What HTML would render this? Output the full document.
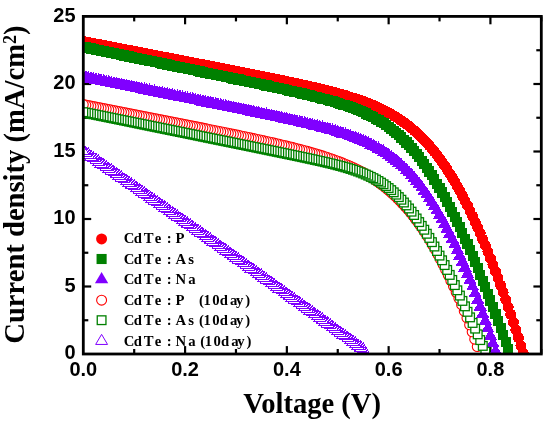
<!DOCTYPE html>
<html><head><meta charset="utf-8"><style>
html,body{margin:0;padding:0;background:#fff;}
body{width:550px;height:423px;overflow:hidden;}
svg{display:block;}
.tl{font-family:"Liberation Sans",Arial,sans-serif;font-weight:bold;font-size:20px;fill:#000;}
.ti{font-family:"Liberation Serif","Times New Roman",serif;font-weight:bold;font-size:28.6px;fill:#000;}
.lg{font-family:"Liberation Serif","Times New Roman",serif;font-weight:bold;font-size:14.7px;fill:#000;}
</style></head><body>
<svg width="550" height="423" viewBox="0 0 550 423">
<defs><filter id="b" x="0" y="0" width="1" height="1"><feGaussianBlur stdDeviation="0.4"/></filter><clipPath id="c"><rect x="83.3" y="16.4" width="457.99999999999994" height="337.6"/></clipPath></defs>
<rect width="550" height="423" fill="#fff"/>
<g stroke="#000" stroke-width="2.2" fill="none">
<line x1="134.19" y1="354.0" x2="134.19" y2="349.0"/>
<line x1="134.19" y1="16.4" x2="134.19" y2="21.4"/>
<line x1="185.08" y1="354.0" x2="185.08" y2="346.1"/>
<line x1="185.08" y1="16.4" x2="185.08" y2="24.299999999999997"/>
<line x1="235.97" y1="354.0" x2="235.97" y2="349.0"/>
<line x1="235.97" y1="16.4" x2="235.97" y2="21.4"/>
<line x1="286.86" y1="354.0" x2="286.86" y2="346.1"/>
<line x1="286.86" y1="16.4" x2="286.86" y2="24.299999999999997"/>
<line x1="337.75" y1="354.0" x2="337.75" y2="349.0"/>
<line x1="337.75" y1="16.4" x2="337.75" y2="21.4"/>
<line x1="388.64" y1="354.0" x2="388.64" y2="346.1"/>
<line x1="388.64" y1="16.4" x2="388.64" y2="24.299999999999997"/>
<line x1="439.53" y1="354.0" x2="439.53" y2="349.0"/>
<line x1="439.53" y1="16.4" x2="439.53" y2="21.4"/>
<line x1="490.42" y1="354.0" x2="490.42" y2="346.1"/>
<line x1="490.42" y1="16.4" x2="490.42" y2="24.299999999999997"/>
<line x1="541.31" y1="354.0" x2="541.31" y2="349.0"/>
<line x1="541.31" y1="16.4" x2="541.31" y2="21.4"/>
<line x1="83.3" y1="320.25" x2="88.3" y2="320.25"/>
<line x1="541.3" y1="320.25" x2="536.3" y2="320.25"/>
<line x1="83.3" y1="286.50" x2="91.2" y2="286.50"/>
<line x1="541.3" y1="286.50" x2="533.4" y2="286.50"/>
<line x1="83.3" y1="252.75" x2="88.3" y2="252.75"/>
<line x1="541.3" y1="252.75" x2="536.3" y2="252.75"/>
<line x1="83.3" y1="219.00" x2="91.2" y2="219.00"/>
<line x1="541.3" y1="219.00" x2="533.4" y2="219.00"/>
<line x1="83.3" y1="185.25" x2="88.3" y2="185.25"/>
<line x1="541.3" y1="185.25" x2="536.3" y2="185.25"/>
<line x1="83.3" y1="151.50" x2="91.2" y2="151.50"/>
<line x1="541.3" y1="151.50" x2="533.4" y2="151.50"/>
<line x1="83.3" y1="117.75" x2="88.3" y2="117.75"/>
<line x1="541.3" y1="117.75" x2="536.3" y2="117.75"/>
<line x1="83.3" y1="84.00" x2="91.2" y2="84.00"/>
<line x1="541.3" y1="84.00" x2="533.4" y2="84.00"/>
<line x1="83.3" y1="50.25" x2="88.3" y2="50.25"/>
<line x1="541.3" y1="50.25" x2="536.3" y2="50.25"/>
</g>
<g clip-path="url(#c)"><g filter="url(#b)" shape-rendering="crispEdges">
<circle cx="523.50" cy="353.77" r="5.5" fill="#ff0000"/>
<circle cx="520.95" cy="345.69" r="5.5" fill="#ff0000"/>
<circle cx="518.41" cy="337.71" r="5.5" fill="#ff0000"/>
<circle cx="515.87" cy="329.85" r="5.5" fill="#ff0000"/>
<circle cx="513.32" cy="322.11" r="5.5" fill="#ff0000"/>
<circle cx="510.78" cy="314.48" r="5.5" fill="#ff0000"/>
<circle cx="508.23" cy="306.98" r="5.5" fill="#ff0000"/>
<circle cx="505.69" cy="299.61" r="5.5" fill="#ff0000"/>
<circle cx="503.14" cy="292.36" r="5.5" fill="#ff0000"/>
<circle cx="500.60" cy="285.24" r="5.5" fill="#ff0000"/>
<circle cx="498.05" cy="278.26" r="5.5" fill="#ff0000"/>
<circle cx="495.51" cy="271.41" r="5.5" fill="#ff0000"/>
<circle cx="492.96" cy="264.70" r="5.5" fill="#ff0000"/>
<circle cx="490.42" cy="258.14" r="5.5" fill="#ff0000"/>
<circle cx="487.88" cy="251.71" r="5.5" fill="#ff0000"/>
<circle cx="485.33" cy="245.43" r="5.5" fill="#ff0000"/>
<circle cx="482.79" cy="239.30" r="5.5" fill="#ff0000"/>
<circle cx="480.24" cy="233.32" r="5.5" fill="#ff0000"/>
<circle cx="477.70" cy="227.49" r="5.5" fill="#ff0000"/>
<circle cx="475.15" cy="221.81" r="5.5" fill="#ff0000"/>
<circle cx="472.61" cy="216.28" r="5.5" fill="#ff0000"/>
<circle cx="470.06" cy="210.91" r="5.5" fill="#ff0000"/>
<circle cx="467.52" cy="205.70" r="5.5" fill="#ff0000"/>
<circle cx="464.97" cy="200.64" r="5.5" fill="#ff0000"/>
<circle cx="462.43" cy="195.74" r="5.5" fill="#ff0000"/>
<circle cx="459.89" cy="190.99" r="5.5" fill="#ff0000"/>
<circle cx="457.34" cy="186.40" r="5.5" fill="#ff0000"/>
<circle cx="454.80" cy="181.97" r="5.5" fill="#ff0000"/>
<circle cx="452.25" cy="177.69" r="5.5" fill="#ff0000"/>
<circle cx="449.71" cy="173.56" r="5.5" fill="#ff0000"/>
<circle cx="447.16" cy="169.58" r="5.5" fill="#ff0000"/>
<circle cx="444.62" cy="165.76" r="5.5" fill="#ff0000"/>
<circle cx="442.07" cy="162.08" r="5.5" fill="#ff0000"/>
<circle cx="439.53" cy="158.55" r="5.5" fill="#ff0000"/>
<circle cx="436.99" cy="155.16" r="5.5" fill="#ff0000"/>
<circle cx="434.44" cy="151.91" r="5.5" fill="#ff0000"/>
<circle cx="431.90" cy="148.79" r="5.5" fill="#ff0000"/>
<circle cx="429.35" cy="145.81" r="5.5" fill="#ff0000"/>
<circle cx="426.81" cy="142.96" r="5.5" fill="#ff0000"/>
<circle cx="424.26" cy="140.23" r="5.5" fill="#ff0000"/>
<circle cx="421.72" cy="137.62" r="5.5" fill="#ff0000"/>
<circle cx="419.17" cy="135.13" r="5.5" fill="#ff0000"/>
<circle cx="416.63" cy="132.75" r="5.5" fill="#ff0000"/>
<circle cx="414.08" cy="130.48" r="5.5" fill="#ff0000"/>
<circle cx="411.54" cy="128.32" r="5.5" fill="#ff0000"/>
<circle cx="409.00" cy="126.25" r="5.5" fill="#ff0000"/>
<circle cx="406.45" cy="124.28" r="5.5" fill="#ff0000"/>
<circle cx="403.91" cy="122.40" r="5.5" fill="#ff0000"/>
<circle cx="401.36" cy="120.61" r="5.5" fill="#ff0000"/>
<circle cx="398.82" cy="118.90" r="5.5" fill="#ff0000"/>
<circle cx="396.27" cy="117.26" r="5.5" fill="#ff0000"/>
<circle cx="393.73" cy="115.70" r="5.5" fill="#ff0000"/>
<circle cx="391.18" cy="114.21" r="5.5" fill="#ff0000"/>
<circle cx="388.64" cy="112.79" r="5.5" fill="#ff0000"/>
<circle cx="386.10" cy="111.43" r="5.5" fill="#ff0000"/>
<circle cx="383.55" cy="110.12" r="5.5" fill="#ff0000"/>
<circle cx="381.01" cy="108.88" r="5.5" fill="#ff0000"/>
<circle cx="378.46" cy="107.68" r="5.5" fill="#ff0000"/>
<circle cx="375.92" cy="106.53" r="5.5" fill="#ff0000"/>
<circle cx="373.37" cy="105.43" r="5.5" fill="#ff0000"/>
<circle cx="370.83" cy="104.37" r="5.5" fill="#ff0000"/>
<circle cx="368.28" cy="103.35" r="5.5" fill="#ff0000"/>
<circle cx="365.74" cy="102.37" r="5.5" fill="#ff0000"/>
<circle cx="363.19" cy="101.42" r="5.5" fill="#ff0000"/>
<circle cx="360.65" cy="100.51" r="5.5" fill="#ff0000"/>
<circle cx="358.11" cy="99.62" r="5.5" fill="#ff0000"/>
<circle cx="355.56" cy="98.77" r="5.5" fill="#ff0000"/>
<circle cx="353.02" cy="97.94" r="5.5" fill="#ff0000"/>
<circle cx="350.47" cy="97.13" r="5.5" fill="#ff0000"/>
<circle cx="347.93" cy="96.35" r="5.5" fill="#ff0000"/>
<circle cx="345.38" cy="95.59" r="5.5" fill="#ff0000"/>
<circle cx="342.84" cy="94.85" r="5.5" fill="#ff0000"/>
<circle cx="340.29" cy="94.13" r="5.5" fill="#ff0000"/>
<circle cx="337.75" cy="93.42" r="5.5" fill="#ff0000"/>
<circle cx="335.21" cy="92.73" r="5.5" fill="#ff0000"/>
<circle cx="332.66" cy="92.06" r="5.5" fill="#ff0000"/>
<circle cx="330.12" cy="91.39" r="5.5" fill="#ff0000"/>
<circle cx="327.57" cy="90.74" r="5.5" fill="#ff0000"/>
<circle cx="325.03" cy="90.11" r="5.5" fill="#ff0000"/>
<circle cx="322.48" cy="89.48" r="5.5" fill="#ff0000"/>
<circle cx="319.94" cy="88.86" r="5.5" fill="#ff0000"/>
<circle cx="317.39" cy="88.26" r="5.5" fill="#ff0000"/>
<circle cx="314.85" cy="87.66" r="5.5" fill="#ff0000"/>
<circle cx="312.31" cy="87.07" r="5.5" fill="#ff0000"/>
<circle cx="309.76" cy="86.48" r="5.5" fill="#ff0000"/>
<circle cx="307.22" cy="85.91" r="5.5" fill="#ff0000"/>
<circle cx="304.67" cy="85.34" r="5.5" fill="#ff0000"/>
<circle cx="302.13" cy="84.77" r="5.5" fill="#ff0000"/>
<circle cx="299.58" cy="84.21" r="5.5" fill="#ff0000"/>
<circle cx="297.04" cy="83.66" r="5.5" fill="#ff0000"/>
<circle cx="294.49" cy="83.11" r="5.5" fill="#ff0000"/>
<circle cx="291.95" cy="82.56" r="5.5" fill="#ff0000"/>
<circle cx="289.40" cy="82.02" r="5.5" fill="#ff0000"/>
<circle cx="286.86" cy="81.48" r="5.5" fill="#ff0000"/>
<circle cx="284.32" cy="80.95" r="5.5" fill="#ff0000"/>
<circle cx="281.77" cy="80.42" r="5.5" fill="#ff0000"/>
<circle cx="279.23" cy="79.89" r="5.5" fill="#ff0000"/>
<circle cx="276.68" cy="79.36" r="5.5" fill="#ff0000"/>
<circle cx="274.14" cy="78.84" r="5.5" fill="#ff0000"/>
<circle cx="271.59" cy="78.32" r="5.5" fill="#ff0000"/>
<circle cx="269.05" cy="77.80" r="5.5" fill="#ff0000"/>
<circle cx="266.50" cy="77.28" r="5.5" fill="#ff0000"/>
<circle cx="263.96" cy="76.77" r="5.5" fill="#ff0000"/>
<circle cx="261.42" cy="76.25" r="5.5" fill="#ff0000"/>
<circle cx="258.87" cy="75.74" r="5.5" fill="#ff0000"/>
<circle cx="256.33" cy="75.23" r="5.5" fill="#ff0000"/>
<circle cx="253.78" cy="74.72" r="5.5" fill="#ff0000"/>
<circle cx="251.24" cy="74.21" r="5.5" fill="#ff0000"/>
<circle cx="248.69" cy="73.71" r="5.5" fill="#ff0000"/>
<circle cx="246.15" cy="73.20" r="5.5" fill="#ff0000"/>
<circle cx="243.60" cy="72.69" r="5.5" fill="#ff0000"/>
<circle cx="241.06" cy="72.19" r="5.5" fill="#ff0000"/>
<circle cx="238.51" cy="71.69" r="5.5" fill="#ff0000"/>
<circle cx="235.97" cy="71.18" r="5.5" fill="#ff0000"/>
<circle cx="233.43" cy="70.68" r="5.5" fill="#ff0000"/>
<circle cx="230.88" cy="70.18" r="5.5" fill="#ff0000"/>
<circle cx="228.34" cy="69.68" r="5.5" fill="#ff0000"/>
<circle cx="225.79" cy="69.18" r="5.5" fill="#ff0000"/>
<circle cx="223.25" cy="68.68" r="5.5" fill="#ff0000"/>
<circle cx="220.70" cy="68.18" r="5.5" fill="#ff0000"/>
<circle cx="218.16" cy="67.68" r="5.5" fill="#ff0000"/>
<circle cx="215.61" cy="67.18" r="5.5" fill="#ff0000"/>
<circle cx="213.07" cy="66.69" r="5.5" fill="#ff0000"/>
<circle cx="210.52" cy="66.19" r="5.5" fill="#ff0000"/>
<circle cx="207.98" cy="65.69" r="5.5" fill="#ff0000"/>
<circle cx="205.44" cy="65.19" r="5.5" fill="#ff0000"/>
<circle cx="202.89" cy="64.70" r="5.5" fill="#ff0000"/>
<circle cx="200.35" cy="64.20" r="5.5" fill="#ff0000"/>
<circle cx="197.80" cy="63.70" r="5.5" fill="#ff0000"/>
<circle cx="195.26" cy="63.21" r="5.5" fill="#ff0000"/>
<circle cx="192.71" cy="62.71" r="5.5" fill="#ff0000"/>
<circle cx="190.17" cy="62.22" r="5.5" fill="#ff0000"/>
<circle cx="187.62" cy="61.72" r="5.5" fill="#ff0000"/>
<circle cx="185.08" cy="61.23" r="5.5" fill="#ff0000"/>
<circle cx="182.54" cy="60.73" r="5.5" fill="#ff0000"/>
<circle cx="179.99" cy="60.24" r="5.5" fill="#ff0000"/>
<circle cx="177.45" cy="59.74" r="5.5" fill="#ff0000"/>
<circle cx="174.90" cy="59.25" r="5.5" fill="#ff0000"/>
<circle cx="172.36" cy="58.75" r="5.5" fill="#ff0000"/>
<circle cx="169.81" cy="58.26" r="5.5" fill="#ff0000"/>
<circle cx="167.27" cy="57.76" r="5.5" fill="#ff0000"/>
<circle cx="164.72" cy="57.27" r="5.5" fill="#ff0000"/>
<circle cx="162.18" cy="56.77" r="5.5" fill="#ff0000"/>
<circle cx="159.63" cy="56.28" r="5.5" fill="#ff0000"/>
<circle cx="157.09" cy="55.78" r="5.5" fill="#ff0000"/>
<circle cx="154.55" cy="55.29" r="5.5" fill="#ff0000"/>
<circle cx="152.00" cy="54.80" r="5.5" fill="#ff0000"/>
<circle cx="149.46" cy="54.30" r="5.5" fill="#ff0000"/>
<circle cx="146.91" cy="53.81" r="5.5" fill="#ff0000"/>
<circle cx="144.37" cy="53.31" r="5.5" fill="#ff0000"/>
<circle cx="141.82" cy="52.82" r="5.5" fill="#ff0000"/>
<circle cx="139.28" cy="52.32" r="5.5" fill="#ff0000"/>
<circle cx="136.73" cy="51.83" r="5.5" fill="#ff0000"/>
<circle cx="134.19" cy="51.34" r="5.5" fill="#ff0000"/>
<circle cx="131.65" cy="50.84" r="5.5" fill="#ff0000"/>
<circle cx="129.10" cy="50.35" r="5.5" fill="#ff0000"/>
<circle cx="126.56" cy="49.86" r="5.5" fill="#ff0000"/>
<circle cx="124.01" cy="49.36" r="5.5" fill="#ff0000"/>
<circle cx="121.47" cy="48.87" r="5.5" fill="#ff0000"/>
<circle cx="118.92" cy="48.37" r="5.5" fill="#ff0000"/>
<circle cx="116.38" cy="47.88" r="5.5" fill="#ff0000"/>
<circle cx="113.83" cy="47.39" r="5.5" fill="#ff0000"/>
<circle cx="111.29" cy="46.89" r="5.5" fill="#ff0000"/>
<circle cx="108.75" cy="46.40" r="5.5" fill="#ff0000"/>
<circle cx="106.20" cy="45.91" r="5.5" fill="#ff0000"/>
<circle cx="103.66" cy="45.41" r="5.5" fill="#ff0000"/>
<circle cx="101.11" cy="44.92" r="5.5" fill="#ff0000"/>
<circle cx="98.57" cy="44.42" r="5.5" fill="#ff0000"/>
<circle cx="96.02" cy="43.93" r="5.5" fill="#ff0000"/>
<circle cx="93.48" cy="43.44" r="5.5" fill="#ff0000"/>
<circle cx="90.93" cy="42.94" r="5.5" fill="#ff0000"/>
<circle cx="88.39" cy="42.45" r="5.5" fill="#ff0000"/>
<circle cx="85.84" cy="41.96" r="5.5" fill="#ff0000"/>
<circle cx="83.30" cy="41.46" r="5.5" fill="#ff0000"/>
<rect x="503.18" y="344.13" width="10.1" height="10.1" fill="#008000"/>
<rect x="500.64" y="336.95" width="10.1" height="10.1" fill="#008000"/>
<rect x="498.09" y="329.85" width="10.1" height="10.1" fill="#008000"/>
<rect x="495.55" y="322.82" width="10.1" height="10.1" fill="#008000"/>
<rect x="493.00" y="315.86" width="10.1" height="10.1" fill="#008000"/>
<rect x="490.46" y="308.99" width="10.1" height="10.1" fill="#008000"/>
<rect x="487.91" y="302.19" width="10.1" height="10.1" fill="#008000"/>
<rect x="485.37" y="295.48" width="10.1" height="10.1" fill="#008000"/>
<rect x="482.83" y="288.85" width="10.1" height="10.1" fill="#008000"/>
<rect x="480.28" y="282.31" width="10.1" height="10.1" fill="#008000"/>
<rect x="477.74" y="275.86" width="10.1" height="10.1" fill="#008000"/>
<rect x="475.19" y="269.50" width="10.1" height="10.1" fill="#008000"/>
<rect x="472.65" y="263.24" width="10.1" height="10.1" fill="#008000"/>
<rect x="470.10" y="257.09" width="10.1" height="10.1" fill="#008000"/>
<rect x="467.56" y="251.03" width="10.1" height="10.1" fill="#008000"/>
<rect x="465.01" y="245.08" width="10.1" height="10.1" fill="#008000"/>
<rect x="462.47" y="239.24" width="10.1" height="10.1" fill="#008000"/>
<rect x="459.92" y="233.51" width="10.1" height="10.1" fill="#008000"/>
<rect x="457.38" y="227.89" width="10.1" height="10.1" fill="#008000"/>
<rect x="454.84" y="222.39" width="10.1" height="10.1" fill="#008000"/>
<rect x="452.29" y="217.01" width="10.1" height="10.1" fill="#008000"/>
<rect x="449.75" y="211.76" width="10.1" height="10.1" fill="#008000"/>
<rect x="447.20" y="206.63" width="10.1" height="10.1" fill="#008000"/>
<rect x="444.66" y="201.62" width="10.1" height="10.1" fill="#008000"/>
<rect x="442.11" y="196.75" width="10.1" height="10.1" fill="#008000"/>
<rect x="439.57" y="192.01" width="10.1" height="10.1" fill="#008000"/>
<rect x="437.02" y="187.40" width="10.1" height="10.1" fill="#008000"/>
<rect x="434.48" y="182.93" width="10.1" height="10.1" fill="#008000"/>
<rect x="431.94" y="178.60" width="10.1" height="10.1" fill="#008000"/>
<rect x="429.39" y="174.41" width="10.1" height="10.1" fill="#008000"/>
<rect x="426.85" y="170.35" width="10.1" height="10.1" fill="#008000"/>
<rect x="424.30" y="166.44" width="10.1" height="10.1" fill="#008000"/>
<rect x="421.76" y="162.67" width="10.1" height="10.1" fill="#008000"/>
<rect x="419.21" y="159.03" width="10.1" height="10.1" fill="#008000"/>
<rect x="416.67" y="155.54" width="10.1" height="10.1" fill="#008000"/>
<rect x="414.12" y="152.19" width="10.1" height="10.1" fill="#008000"/>
<rect x="411.58" y="148.97" width="10.1" height="10.1" fill="#008000"/>
<rect x="409.03" y="145.89" width="10.1" height="10.1" fill="#008000"/>
<rect x="406.49" y="142.94" width="10.1" height="10.1" fill="#008000"/>
<rect x="403.95" y="140.12" width="10.1" height="10.1" fill="#008000"/>
<rect x="401.40" y="137.43" width="10.1" height="10.1" fill="#008000"/>
<rect x="398.86" y="134.86" width="10.1" height="10.1" fill="#008000"/>
<rect x="396.31" y="132.42" width="10.1" height="10.1" fill="#008000"/>
<rect x="393.77" y="130.09" width="10.1" height="10.1" fill="#008000"/>
<rect x="391.22" y="127.87" width="10.1" height="10.1" fill="#008000"/>
<rect x="388.68" y="125.77" width="10.1" height="10.1" fill="#008000"/>
<rect x="386.13" y="123.76" width="10.1" height="10.1" fill="#008000"/>
<rect x="383.59" y="121.86" width="10.1" height="10.1" fill="#008000"/>
<rect x="381.05" y="120.05" width="10.1" height="10.1" fill="#008000"/>
<rect x="378.50" y="118.33" width="10.1" height="10.1" fill="#008000"/>
<rect x="375.96" y="116.70" width="10.1" height="10.1" fill="#008000"/>
<rect x="373.41" y="115.14" width="10.1" height="10.1" fill="#008000"/>
<rect x="370.87" y="113.67" width="10.1" height="10.1" fill="#008000"/>
<rect x="368.32" y="112.26" width="10.1" height="10.1" fill="#008000"/>
<rect x="365.78" y="110.92" width="10.1" height="10.1" fill="#008000"/>
<rect x="363.23" y="109.65" width="10.1" height="10.1" fill="#008000"/>
<rect x="360.69" y="108.43" width="10.1" height="10.1" fill="#008000"/>
<rect x="358.14" y="107.27" width="10.1" height="10.1" fill="#008000"/>
<rect x="355.60" y="106.16" width="10.1" height="10.1" fill="#008000"/>
<rect x="353.06" y="105.09" width="10.1" height="10.1" fill="#008000"/>
<rect x="350.51" y="104.07" width="10.1" height="10.1" fill="#008000"/>
<rect x="347.97" y="103.09" width="10.1" height="10.1" fill="#008000"/>
<rect x="345.42" y="102.15" width="10.1" height="10.1" fill="#008000"/>
<rect x="342.88" y="101.24" width="10.1" height="10.1" fill="#008000"/>
<rect x="340.33" y="100.36" width="10.1" height="10.1" fill="#008000"/>
<rect x="337.79" y="99.52" width="10.1" height="10.1" fill="#008000"/>
<rect x="335.24" y="98.69" width="10.1" height="10.1" fill="#008000"/>
<rect x="332.70" y="97.90" width="10.1" height="10.1" fill="#008000"/>
<rect x="330.16" y="97.13" width="10.1" height="10.1" fill="#008000"/>
<rect x="327.61" y="96.37" width="10.1" height="10.1" fill="#008000"/>
<rect x="325.07" y="95.64" width="10.1" height="10.1" fill="#008000"/>
<rect x="322.52" y="94.93" width="10.1" height="10.1" fill="#008000"/>
<rect x="319.98" y="94.23" width="10.1" height="10.1" fill="#008000"/>
<rect x="317.43" y="93.54" width="10.1" height="10.1" fill="#008000"/>
<rect x="314.89" y="92.87" width="10.1" height="10.1" fill="#008000"/>
<rect x="312.34" y="92.21" width="10.1" height="10.1" fill="#008000"/>
<rect x="309.80" y="91.56" width="10.1" height="10.1" fill="#008000"/>
<rect x="307.25" y="90.93" width="10.1" height="10.1" fill="#008000"/>
<rect x="304.71" y="90.30" width="10.1" height="10.1" fill="#008000"/>
<rect x="302.17" y="89.68" width="10.1" height="10.1" fill="#008000"/>
<rect x="299.62" y="89.06" width="10.1" height="10.1" fill="#008000"/>
<rect x="297.08" y="88.46" width="10.1" height="10.1" fill="#008000"/>
<rect x="294.53" y="87.86" width="10.1" height="10.1" fill="#008000"/>
<rect x="291.99" y="87.27" width="10.1" height="10.1" fill="#008000"/>
<rect x="289.44" y="86.68" width="10.1" height="10.1" fill="#008000"/>
<rect x="286.90" y="86.10" width="10.1" height="10.1" fill="#008000"/>
<rect x="284.35" y="85.52" width="10.1" height="10.1" fill="#008000"/>
<rect x="281.81" y="84.95" width="10.1" height="10.1" fill="#008000"/>
<rect x="279.27" y="84.38" width="10.1" height="10.1" fill="#008000"/>
<rect x="276.72" y="83.81" width="10.1" height="10.1" fill="#008000"/>
<rect x="274.18" y="83.25" width="10.1" height="10.1" fill="#008000"/>
<rect x="271.63" y="82.68" width="10.1" height="10.1" fill="#008000"/>
<rect x="269.09" y="82.13" width="10.1" height="10.1" fill="#008000"/>
<rect x="266.54" y="81.57" width="10.1" height="10.1" fill="#008000"/>
<rect x="264.00" y="81.02" width="10.1" height="10.1" fill="#008000"/>
<rect x="261.45" y="80.46" width="10.1" height="10.1" fill="#008000"/>
<rect x="258.91" y="79.91" width="10.1" height="10.1" fill="#008000"/>
<rect x="256.37" y="79.36" width="10.1" height="10.1" fill="#008000"/>
<rect x="253.82" y="78.82" width="10.1" height="10.1" fill="#008000"/>
<rect x="251.28" y="78.27" width="10.1" height="10.1" fill="#008000"/>
<rect x="248.73" y="77.73" width="10.1" height="10.1" fill="#008000"/>
<rect x="246.19" y="77.18" width="10.1" height="10.1" fill="#008000"/>
<rect x="243.64" y="76.64" width="10.1" height="10.1" fill="#008000"/>
<rect x="241.10" y="76.10" width="10.1" height="10.1" fill="#008000"/>
<rect x="238.55" y="75.56" width="10.1" height="10.1" fill="#008000"/>
<rect x="236.01" y="75.01" width="10.1" height="10.1" fill="#008000"/>
<rect x="233.46" y="74.47" width="10.1" height="10.1" fill="#008000"/>
<rect x="230.92" y="73.94" width="10.1" height="10.1" fill="#008000"/>
<rect x="228.38" y="73.40" width="10.1" height="10.1" fill="#008000"/>
<rect x="225.83" y="72.86" width="10.1" height="10.1" fill="#008000"/>
<rect x="223.29" y="72.32" width="10.1" height="10.1" fill="#008000"/>
<rect x="220.74" y="71.78" width="10.1" height="10.1" fill="#008000"/>
<rect x="218.20" y="71.25" width="10.1" height="10.1" fill="#008000"/>
<rect x="215.65" y="70.71" width="10.1" height="10.1" fill="#008000"/>
<rect x="213.11" y="70.17" width="10.1" height="10.1" fill="#008000"/>
<rect x="210.56" y="69.64" width="10.1" height="10.1" fill="#008000"/>
<rect x="208.02" y="69.10" width="10.1" height="10.1" fill="#008000"/>
<rect x="205.47" y="68.57" width="10.1" height="10.1" fill="#008000"/>
<rect x="202.93" y="68.03" width="10.1" height="10.1" fill="#008000"/>
<rect x="200.39" y="67.50" width="10.1" height="10.1" fill="#008000"/>
<rect x="197.84" y="66.96" width="10.1" height="10.1" fill="#008000"/>
<rect x="195.30" y="66.43" width="10.1" height="10.1" fill="#008000"/>
<rect x="192.75" y="65.89" width="10.1" height="10.1" fill="#008000"/>
<rect x="190.21" y="65.36" width="10.1" height="10.1" fill="#008000"/>
<rect x="187.66" y="64.82" width="10.1" height="10.1" fill="#008000"/>
<rect x="185.12" y="64.29" width="10.1" height="10.1" fill="#008000"/>
<rect x="182.57" y="63.76" width="10.1" height="10.1" fill="#008000"/>
<rect x="180.03" y="63.22" width="10.1" height="10.1" fill="#008000"/>
<rect x="177.49" y="62.69" width="10.1" height="10.1" fill="#008000"/>
<rect x="174.94" y="62.15" width="10.1" height="10.1" fill="#008000"/>
<rect x="172.40" y="61.62" width="10.1" height="10.1" fill="#008000"/>
<rect x="169.85" y="61.09" width="10.1" height="10.1" fill="#008000"/>
<rect x="167.31" y="60.55" width="10.1" height="10.1" fill="#008000"/>
<rect x="164.76" y="60.02" width="10.1" height="10.1" fill="#008000"/>
<rect x="162.22" y="59.48" width="10.1" height="10.1" fill="#008000"/>
<rect x="159.67" y="58.95" width="10.1" height="10.1" fill="#008000"/>
<rect x="157.13" y="58.42" width="10.1" height="10.1" fill="#008000"/>
<rect x="154.58" y="57.88" width="10.1" height="10.1" fill="#008000"/>
<rect x="152.04" y="57.35" width="10.1" height="10.1" fill="#008000"/>
<rect x="149.50" y="56.82" width="10.1" height="10.1" fill="#008000"/>
<rect x="146.95" y="56.28" width="10.1" height="10.1" fill="#008000"/>
<rect x="144.41" y="55.75" width="10.1" height="10.1" fill="#008000"/>
<rect x="141.86" y="55.22" width="10.1" height="10.1" fill="#008000"/>
<rect x="139.32" y="54.68" width="10.1" height="10.1" fill="#008000"/>
<rect x="136.77" y="54.15" width="10.1" height="10.1" fill="#008000"/>
<rect x="134.23" y="53.62" width="10.1" height="10.1" fill="#008000"/>
<rect x="131.68" y="53.08" width="10.1" height="10.1" fill="#008000"/>
<rect x="129.14" y="52.55" width="10.1" height="10.1" fill="#008000"/>
<rect x="126.60" y="52.02" width="10.1" height="10.1" fill="#008000"/>
<rect x="124.05" y="51.48" width="10.1" height="10.1" fill="#008000"/>
<rect x="121.51" y="50.95" width="10.1" height="10.1" fill="#008000"/>
<rect x="118.96" y="50.42" width="10.1" height="10.1" fill="#008000"/>
<rect x="116.42" y="49.88" width="10.1" height="10.1" fill="#008000"/>
<rect x="113.87" y="49.35" width="10.1" height="10.1" fill="#008000"/>
<rect x="111.33" y="48.82" width="10.1" height="10.1" fill="#008000"/>
<rect x="108.78" y="48.29" width="10.1" height="10.1" fill="#008000"/>
<rect x="106.24" y="47.75" width="10.1" height="10.1" fill="#008000"/>
<rect x="103.70" y="47.22" width="10.1" height="10.1" fill="#008000"/>
<rect x="101.15" y="46.69" width="10.1" height="10.1" fill="#008000"/>
<rect x="98.61" y="46.15" width="10.1" height="10.1" fill="#008000"/>
<rect x="96.06" y="45.62" width="10.1" height="10.1" fill="#008000"/>
<rect x="93.52" y="45.09" width="10.1" height="10.1" fill="#008000"/>
<rect x="90.97" y="44.55" width="10.1" height="10.1" fill="#008000"/>
<rect x="88.43" y="44.02" width="10.1" height="10.1" fill="#008000"/>
<rect x="85.88" y="43.49" width="10.1" height="10.1" fill="#008000"/>
<rect x="83.34" y="42.95" width="10.1" height="10.1" fill="#008000"/>
<rect x="80.79" y="42.42" width="10.1" height="10.1" fill="#008000"/>
<rect x="78.25" y="41.89" width="10.1" height="10.1" fill="#008000"/>
<polygon points="495.51,343.60 502.16,354.90 488.86,354.90" fill="#8000ff"/>
<polygon points="492.96,335.93 499.61,347.23 486.31,347.23" fill="#8000ff"/>
<polygon points="490.42,328.38 497.07,339.68 483.77,339.68" fill="#8000ff"/>
<polygon points="487.88,320.96 494.53,332.26 481.23,332.26" fill="#8000ff"/>
<polygon points="485.33,313.66 491.98,324.96 478.68,324.96" fill="#8000ff"/>
<polygon points="482.79,306.49 489.44,317.79 476.14,317.79" fill="#8000ff"/>
<polygon points="480.24,299.46 486.89,310.76 473.59,310.76" fill="#8000ff"/>
<polygon points="477.70,292.56 484.35,303.86 471.05,303.86" fill="#8000ff"/>
<polygon points="475.15,285.80 481.80,297.10 468.50,297.10" fill="#8000ff"/>
<polygon points="472.61,279.18 479.26,290.48 465.96,290.48" fill="#8000ff"/>
<polygon points="470.06,272.71 476.71,284.01 463.41,284.01" fill="#8000ff"/>
<polygon points="467.52,266.39 474.17,277.69 460.87,277.69" fill="#8000ff"/>
<polygon points="464.97,260.22 471.62,271.52 458.32,271.52" fill="#8000ff"/>
<polygon points="462.43,254.20 469.08,265.50 455.78,265.50" fill="#8000ff"/>
<polygon points="459.89,248.35 466.54,259.65 453.24,259.65" fill="#8000ff"/>
<polygon points="457.34,242.65 463.99,253.95 450.69,253.95" fill="#8000ff"/>
<polygon points="454.80,237.11 461.45,248.41 448.15,248.41" fill="#8000ff"/>
<polygon points="452.25,231.73 458.90,243.03 445.60,243.03" fill="#8000ff"/>
<polygon points="449.71,226.51 456.36,237.81 443.06,237.81" fill="#8000ff"/>
<polygon points="447.16,221.46 453.81,232.76 440.51,232.76" fill="#8000ff"/>
<polygon points="444.62,216.58 451.27,227.88 437.97,227.88" fill="#8000ff"/>
<polygon points="442.07,211.86 448.72,223.16 435.42,223.16" fill="#8000ff"/>
<polygon points="439.53,207.31 446.18,218.61 432.88,218.61" fill="#8000ff"/>
<polygon points="436.99,202.92 443.64,214.22 430.34,214.22" fill="#8000ff"/>
<polygon points="434.44,198.70 441.09,210.00 427.79,210.00" fill="#8000ff"/>
<polygon points="431.90,194.64 438.55,205.94 425.25,205.94" fill="#8000ff"/>
<polygon points="429.35,190.74 436.00,202.04 422.70,202.04" fill="#8000ff"/>
<polygon points="426.81,187.01 433.46,198.31 420.16,198.31" fill="#8000ff"/>
<polygon points="424.26,183.43 430.91,194.73 417.61,194.73" fill="#8000ff"/>
<polygon points="421.72,180.00 428.37,191.30 415.07,191.30" fill="#8000ff"/>
<polygon points="419.17,176.73 425.82,188.03 412.52,188.03" fill="#8000ff"/>
<polygon points="416.63,173.60 423.28,184.90 409.98,184.90" fill="#8000ff"/>
<polygon points="414.08,170.61 420.73,181.91 407.44,181.91" fill="#8000ff"/>
<polygon points="411.54,167.77 418.19,179.07 404.89,179.07" fill="#8000ff"/>
<polygon points="409.00,165.06 415.65,176.36 402.35,176.36" fill="#8000ff"/>
<polygon points="406.45,162.48 413.10,173.78 399.80,173.78" fill="#8000ff"/>
<polygon points="403.91,160.03 410.56,171.33 397.26,171.33" fill="#8000ff"/>
<polygon points="401.36,157.70 408.01,169.00 394.71,169.00" fill="#8000ff"/>
<polygon points="398.82,155.48 405.47,166.78 392.17,166.78" fill="#8000ff"/>
<polygon points="396.27,153.37 402.92,164.67 389.62,164.67" fill="#8000ff"/>
<polygon points="393.73,151.37 400.38,162.67 387.08,162.67" fill="#8000ff"/>
<polygon points="391.18,149.47 397.83,160.77 384.53,160.77" fill="#8000ff"/>
<polygon points="388.64,147.66 395.29,158.96 381.99,158.96" fill="#8000ff"/>
<polygon points="386.10,145.95 392.75,157.25 379.45,157.25" fill="#8000ff"/>
<polygon points="383.55,144.31 390.20,155.61 376.90,155.61" fill="#8000ff"/>
<polygon points="381.01,142.76 387.66,154.06 374.36,154.06" fill="#8000ff"/>
<polygon points="378.46,141.28 385.11,152.58 371.81,152.58" fill="#8000ff"/>
<polygon points="375.92,139.87 382.57,151.17 369.27,151.17" fill="#8000ff"/>
<polygon points="373.37,138.53 380.02,149.83 366.72,149.83" fill="#8000ff"/>
<polygon points="370.83,137.25 377.48,148.55 364.18,148.55" fill="#8000ff"/>
<polygon points="368.28,136.03 374.93,147.33 361.63,147.33" fill="#8000ff"/>
<polygon points="365.74,134.86 372.39,146.16 359.09,146.16" fill="#8000ff"/>
<polygon points="363.19,133.74 369.84,145.04 356.55,145.04" fill="#8000ff"/>
<polygon points="360.65,132.67 367.30,143.97 354.00,143.97" fill="#8000ff"/>
<polygon points="358.11,131.64 364.76,142.94 351.46,142.94" fill="#8000ff"/>
<polygon points="355.56,130.65 362.21,141.95 348.91,141.95" fill="#8000ff"/>
<polygon points="353.02,129.70 359.67,141.00 346.37,141.00" fill="#8000ff"/>
<polygon points="350.47,128.78 357.12,140.08 343.82,140.08" fill="#8000ff"/>
<polygon points="347.93,127.90 354.58,139.20 341.28,139.20" fill="#8000ff"/>
<polygon points="345.38,127.04 352.03,138.34 338.73,138.34" fill="#8000ff"/>
<polygon points="342.84,126.21 349.49,137.51 336.19,137.51" fill="#8000ff"/>
<polygon points="340.29,125.41 346.94,136.71 333.64,136.71" fill="#8000ff"/>
<polygon points="337.75,124.63 344.40,135.93 331.10,135.93" fill="#8000ff"/>
<polygon points="335.21,123.87 341.86,135.17 328.56,135.17" fill="#8000ff"/>
<polygon points="332.66,123.13 339.31,134.43 326.01,134.43" fill="#8000ff"/>
<polygon points="330.12,122.41 336.77,133.71 323.47,133.71" fill="#8000ff"/>
<polygon points="327.57,121.70 334.22,133.00 320.92,133.00" fill="#8000ff"/>
<polygon points="325.03,121.01 331.68,132.31 318.38,132.31" fill="#8000ff"/>
<polygon points="322.48,120.33 329.13,131.63 315.83,131.63" fill="#8000ff"/>
<polygon points="319.94,119.67 326.59,130.97 313.29,130.97" fill="#8000ff"/>
<polygon points="317.39,119.02 324.04,130.32 310.74,130.32" fill="#8000ff"/>
<polygon points="314.85,118.38 321.50,129.68 308.20,129.68" fill="#8000ff"/>
<polygon points="312.31,117.75 318.95,129.05 305.66,129.05" fill="#8000ff"/>
<polygon points="309.76,117.13 316.41,128.43 303.11,128.43" fill="#8000ff"/>
<polygon points="307.22,116.52 313.87,127.82 300.57,127.82" fill="#8000ff"/>
<polygon points="304.67,115.91 311.32,127.21 298.02,127.21" fill="#8000ff"/>
<polygon points="302.13,115.31 308.78,126.61 295.48,126.61" fill="#8000ff"/>
<polygon points="299.58,114.72 306.23,126.02 292.93,126.02" fill="#8000ff"/>
<polygon points="297.04,114.14 303.69,125.44 290.39,125.44" fill="#8000ff"/>
<polygon points="294.49,113.56 301.14,124.86 287.84,124.86" fill="#8000ff"/>
<polygon points="291.95,112.98 298.60,124.28 285.30,124.28" fill="#8000ff"/>
<polygon points="289.40,112.41 296.05,123.71 282.75,123.71" fill="#8000ff"/>
<polygon points="286.86,111.85 293.51,123.15 280.21,123.15" fill="#8000ff"/>
<polygon points="284.32,111.28 290.97,122.58 277.67,122.58" fill="#8000ff"/>
<polygon points="281.77,110.73 288.42,122.03 275.12,122.03" fill="#8000ff"/>
<polygon points="279.23,110.17 285.88,121.47 272.58,121.47" fill="#8000ff"/>
<polygon points="276.68,109.62 283.33,120.92 270.03,120.92" fill="#8000ff"/>
<polygon points="274.14,109.07 280.79,120.37 267.49,120.37" fill="#8000ff"/>
<polygon points="271.59,108.52 278.24,119.82 264.94,119.82" fill="#8000ff"/>
<polygon points="269.05,107.98 275.70,119.28 262.40,119.28" fill="#8000ff"/>
<polygon points="266.50,107.43 273.15,118.73 259.85,118.73" fill="#8000ff"/>
<polygon points="263.96,106.89 270.61,118.19 257.31,118.19" fill="#8000ff"/>
<polygon points="261.42,106.35 268.06,117.65 254.77,117.65" fill="#8000ff"/>
<polygon points="258.87,105.81 265.52,117.11 252.22,117.11" fill="#8000ff"/>
<polygon points="256.33,105.28 262.98,116.58 249.68,116.58" fill="#8000ff"/>
<polygon points="253.78,104.74 260.43,116.04 247.13,116.04" fill="#8000ff"/>
<polygon points="251.24,104.21 257.89,115.51 244.59,115.51" fill="#8000ff"/>
<polygon points="248.69,103.68 255.34,114.98 242.04,114.98" fill="#8000ff"/>
<polygon points="246.15,103.15 252.80,114.45 239.50,114.45" fill="#8000ff"/>
<polygon points="243.60,102.61 250.25,113.91 236.95,113.91" fill="#8000ff"/>
<polygon points="241.06,102.09 247.71,113.39 234.41,113.39" fill="#8000ff"/>
<polygon points="238.51,101.56 245.16,112.86 231.86,112.86" fill="#8000ff"/>
<polygon points="235.97,101.03 242.62,112.33 229.32,112.33" fill="#8000ff"/>
<polygon points="233.43,100.50 240.08,111.80 226.78,111.80" fill="#8000ff"/>
<polygon points="230.88,99.97 237.53,111.27 224.23,111.27" fill="#8000ff"/>
<polygon points="228.34,99.45 234.99,110.75 221.69,110.75" fill="#8000ff"/>
<polygon points="225.79,98.92 232.44,110.22 219.14,110.22" fill="#8000ff"/>
<polygon points="223.25,98.40 229.90,109.70 216.60,109.70" fill="#8000ff"/>
<polygon points="220.70,97.87 227.35,109.17 214.05,109.17" fill="#8000ff"/>
<polygon points="218.16,97.35 224.81,108.65 211.51,108.65" fill="#8000ff"/>
<polygon points="215.61,96.82 222.26,108.12 208.96,108.12" fill="#8000ff"/>
<polygon points="213.07,96.30 219.72,107.60 206.42,107.60" fill="#8000ff"/>
<polygon points="210.52,95.77 217.17,107.07 203.87,107.07" fill="#8000ff"/>
<polygon points="207.98,95.25 214.63,106.55 201.33,106.55" fill="#8000ff"/>
<polygon points="205.44,94.73 212.09,106.03 198.79,106.03" fill="#8000ff"/>
<polygon points="202.89,94.20 209.54,105.50 196.24,105.50" fill="#8000ff"/>
<polygon points="200.35,93.68 207.00,104.98 193.70,104.98" fill="#8000ff"/>
<polygon points="197.80,93.16 204.45,104.46 191.15,104.46" fill="#8000ff"/>
<polygon points="195.26,92.64 201.91,103.94 188.61,103.94" fill="#8000ff"/>
<polygon points="192.71,92.12 199.36,103.42 186.06,103.42" fill="#8000ff"/>
<polygon points="190.17,91.59 196.82,102.89 183.52,102.89" fill="#8000ff"/>
<polygon points="187.62,91.07 194.27,102.37 180.97,102.37" fill="#8000ff"/>
<polygon points="185.08,90.55 191.73,101.85 178.43,101.85" fill="#8000ff"/>
<polygon points="182.54,90.03 189.19,101.33 175.89,101.33" fill="#8000ff"/>
<polygon points="179.99,89.51 186.64,100.81 173.34,100.81" fill="#8000ff"/>
<polygon points="177.45,88.98 184.10,100.28 170.80,100.28" fill="#8000ff"/>
<polygon points="174.90,88.46 181.55,99.76 168.25,99.76" fill="#8000ff"/>
<polygon points="172.36,87.94 179.01,99.24 165.71,99.24" fill="#8000ff"/>
<polygon points="169.81,87.42 176.46,98.72 163.16,98.72" fill="#8000ff"/>
<polygon points="167.27,86.90 173.92,98.20 160.62,98.20" fill="#8000ff"/>
<polygon points="164.72,86.38 171.37,97.68 158.07,97.68" fill="#8000ff"/>
<polygon points="162.18,85.86 168.83,97.16 155.53,97.16" fill="#8000ff"/>
<polygon points="159.63,85.34 166.28,96.64 152.98,96.64" fill="#8000ff"/>
<polygon points="157.09,84.82 163.74,96.12 150.44,96.12" fill="#8000ff"/>
<polygon points="154.55,84.29 161.20,95.59 147.90,95.59" fill="#8000ff"/>
<polygon points="152.00,83.77 158.65,95.07 145.35,95.07" fill="#8000ff"/>
<polygon points="149.46,83.25 156.11,94.55 142.81,94.55" fill="#8000ff"/>
<polygon points="146.91,82.73 153.56,94.03 140.26,94.03" fill="#8000ff"/>
<polygon points="144.37,82.21 151.02,93.51 137.72,93.51" fill="#8000ff"/>
<polygon points="141.82,81.69 148.47,92.99 135.17,92.99" fill="#8000ff"/>
<polygon points="139.28,81.17 145.93,92.47 132.63,92.47" fill="#8000ff"/>
<polygon points="136.73,80.65 143.38,91.95 130.08,91.95" fill="#8000ff"/>
<polygon points="134.19,80.13 140.84,91.43 127.54,91.43" fill="#8000ff"/>
<polygon points="131.65,79.61 138.30,90.91 125.00,90.91" fill="#8000ff"/>
<polygon points="129.10,79.09 135.75,90.39 122.45,90.39" fill="#8000ff"/>
<polygon points="126.56,78.57 133.21,89.87 119.91,89.87" fill="#8000ff"/>
<polygon points="124.01,78.05 130.66,89.35 117.36,89.35" fill="#8000ff"/>
<polygon points="121.47,77.53 128.12,88.83 114.82,88.83" fill="#8000ff"/>
<polygon points="118.92,77.01 125.57,88.31 112.27,88.31" fill="#8000ff"/>
<polygon points="116.38,76.48 123.03,87.78 109.73,87.78" fill="#8000ff"/>
<polygon points="113.83,75.96 120.48,87.26 107.18,87.26" fill="#8000ff"/>
<polygon points="111.29,75.44 117.94,86.74 104.64,86.74" fill="#8000ff"/>
<polygon points="108.75,74.92 115.40,86.22 102.09,86.22" fill="#8000ff"/>
<polygon points="106.20,74.40 112.85,85.70 99.55,85.70" fill="#8000ff"/>
<polygon points="103.66,73.88 110.31,85.18 97.01,85.18" fill="#8000ff"/>
<polygon points="101.11,73.36 107.76,84.66 94.46,84.66" fill="#8000ff"/>
<polygon points="98.57,72.84 105.22,84.14 91.92,84.14" fill="#8000ff"/>
<polygon points="96.02,72.32 102.67,83.62 89.37,83.62" fill="#8000ff"/>
<polygon points="93.48,71.80 100.13,83.10 86.83,83.10" fill="#8000ff"/>
<polygon points="90.93,71.28 97.58,82.58 84.28,82.58" fill="#8000ff"/>
<polygon points="88.39,70.76 95.04,82.06 81.74,82.06" fill="#8000ff"/>
<polygon points="85.84,70.24 92.49,81.54 79.19,81.54" fill="#8000ff"/>
<polygon points="83.30,69.72 89.95,81.02 76.65,81.02" fill="#8000ff"/>
<circle cx="477.25" cy="346.59" r="4.95" fill="#fff" stroke="#ff0000" stroke-width="1.1" shape-rendering="auto"/>
<circle cx="474.70" cy="339.13" r="4.95" fill="#fff" stroke="#ff0000" stroke-width="1.1" shape-rendering="auto"/>
<circle cx="472.16" cy="331.86" r="4.95" fill="#fff" stroke="#ff0000" stroke-width="1.1" shape-rendering="auto"/>
<circle cx="469.61" cy="324.78" r="4.95" fill="#fff" stroke="#ff0000" stroke-width="1.1" shape-rendering="auto"/>
<circle cx="466.97" cy="317.89" r="4.95" fill="#fff" stroke="#ff0000" stroke-width="1.1" shape-rendering="auto"/>
<circle cx="464.25" cy="311.19" r="4.95" fill="#fff" stroke="#ff0000" stroke-width="1.1" shape-rendering="auto"/>
<circle cx="461.55" cy="304.69" r="4.95" fill="#fff" stroke="#ff0000" stroke-width="1.1" shape-rendering="auto"/>
<circle cx="458.85" cy="298.37" r="4.95" fill="#fff" stroke="#ff0000" stroke-width="1.1" shape-rendering="auto"/>
<circle cx="456.15" cy="292.25" r="4.95" fill="#fff" stroke="#ff0000" stroke-width="1.1" shape-rendering="auto"/>
<circle cx="453.45" cy="286.31" r="4.95" fill="#fff" stroke="#ff0000" stroke-width="1.1" shape-rendering="auto"/>
<circle cx="450.77" cy="280.57" r="4.95" fill="#fff" stroke="#ff0000" stroke-width="1.1" shape-rendering="auto"/>
<circle cx="448.21" cy="275.01" r="4.95" fill="#fff" stroke="#ff0000" stroke-width="1.1" shape-rendering="auto"/>
<circle cx="445.66" cy="269.63" r="4.95" fill="#fff" stroke="#ff0000" stroke-width="1.1" shape-rendering="auto"/>
<circle cx="443.12" cy="264.44" r="4.95" fill="#fff" stroke="#ff0000" stroke-width="1.1" shape-rendering="auto"/>
<circle cx="440.57" cy="259.43" r="4.95" fill="#fff" stroke="#ff0000" stroke-width="1.1" shape-rendering="auto"/>
<circle cx="438.03" cy="254.59" r="4.95" fill="#fff" stroke="#ff0000" stroke-width="1.1" shape-rendering="auto"/>
<circle cx="435.49" cy="249.93" r="4.95" fill="#fff" stroke="#ff0000" stroke-width="1.1" shape-rendering="auto"/>
<circle cx="432.94" cy="245.44" r="4.95" fill="#fff" stroke="#ff0000" stroke-width="1.1" shape-rendering="auto"/>
<circle cx="430.40" cy="241.12" r="4.95" fill="#fff" stroke="#ff0000" stroke-width="1.1" shape-rendering="auto"/>
<circle cx="427.85" cy="236.96" r="4.95" fill="#fff" stroke="#ff0000" stroke-width="1.1" shape-rendering="auto"/>
<circle cx="425.31" cy="232.96" r="4.95" fill="#fff" stroke="#ff0000" stroke-width="1.1" shape-rendering="auto"/>
<circle cx="422.76" cy="229.12" r="4.95" fill="#fff" stroke="#ff0000" stroke-width="1.1" shape-rendering="auto"/>
<circle cx="420.22" cy="225.43" r="4.95" fill="#fff" stroke="#ff0000" stroke-width="1.1" shape-rendering="auto"/>
<circle cx="417.67" cy="221.89" r="4.95" fill="#fff" stroke="#ff0000" stroke-width="1.1" shape-rendering="auto"/>
<circle cx="415.13" cy="218.50" r="4.95" fill="#fff" stroke="#ff0000" stroke-width="1.1" shape-rendering="auto"/>
<circle cx="412.58" cy="215.24" r="4.95" fill="#fff" stroke="#ff0000" stroke-width="1.1" shape-rendering="auto"/>
<circle cx="410.04" cy="212.12" r="4.95" fill="#fff" stroke="#ff0000" stroke-width="1.1" shape-rendering="auto"/>
<circle cx="407.50" cy="209.13" r="4.95" fill="#fff" stroke="#ff0000" stroke-width="1.1" shape-rendering="auto"/>
<circle cx="404.95" cy="206.26" r="4.95" fill="#fff" stroke="#ff0000" stroke-width="1.1" shape-rendering="auto"/>
<circle cx="402.41" cy="203.52" r="4.95" fill="#fff" stroke="#ff0000" stroke-width="1.1" shape-rendering="auto"/>
<circle cx="399.86" cy="200.89" r="4.95" fill="#fff" stroke="#ff0000" stroke-width="1.1" shape-rendering="auto"/>
<circle cx="397.32" cy="198.37" r="4.95" fill="#fff" stroke="#ff0000" stroke-width="1.1" shape-rendering="auto"/>
<circle cx="394.77" cy="195.96" r="4.95" fill="#fff" stroke="#ff0000" stroke-width="1.1" shape-rendering="auto"/>
<circle cx="392.31" cy="193.66" r="4.95" fill="#fff" stroke="#ff0000" stroke-width="1.1" shape-rendering="auto"/>
<circle cx="389.90" cy="191.45" r="4.95" fill="#fff" stroke="#ff0000" stroke-width="1.1" shape-rendering="auto"/>
<circle cx="387.48" cy="189.34" r="4.95" fill="#fff" stroke="#ff0000" stroke-width="1.1" shape-rendering="auto"/>
<circle cx="385.06" cy="187.32" r="4.95" fill="#fff" stroke="#ff0000" stroke-width="1.1" shape-rendering="auto"/>
<circle cx="382.63" cy="185.38" r="4.95" fill="#fff" stroke="#ff0000" stroke-width="1.1" shape-rendering="auto"/>
<circle cx="380.20" cy="183.52" r="4.95" fill="#fff" stroke="#ff0000" stroke-width="1.1" shape-rendering="auto"/>
<circle cx="377.76" cy="181.75" r="4.95" fill="#fff" stroke="#ff0000" stroke-width="1.1" shape-rendering="auto"/>
<circle cx="375.32" cy="180.04" r="4.95" fill="#fff" stroke="#ff0000" stroke-width="1.1" shape-rendering="auto"/>
<circle cx="372.87" cy="178.41" r="4.95" fill="#fff" stroke="#ff0000" stroke-width="1.1" shape-rendering="auto"/>
<circle cx="370.42" cy="176.84" r="4.95" fill="#fff" stroke="#ff0000" stroke-width="1.1" shape-rendering="auto"/>
<circle cx="367.96" cy="175.34" r="4.95" fill="#fff" stroke="#ff0000" stroke-width="1.1" shape-rendering="auto"/>
<circle cx="365.51" cy="173.89" r="4.95" fill="#fff" stroke="#ff0000" stroke-width="1.1" shape-rendering="auto"/>
<circle cx="363.04" cy="172.50" r="4.95" fill="#fff" stroke="#ff0000" stroke-width="1.1" shape-rendering="auto"/>
<circle cx="360.58" cy="171.17" r="4.95" fill="#fff" stroke="#ff0000" stroke-width="1.1" shape-rendering="auto"/>
<circle cx="358.11" cy="169.89" r="4.95" fill="#fff" stroke="#ff0000" stroke-width="1.1" shape-rendering="auto"/>
<circle cx="355.56" cy="168.65" r="4.95" fill="#fff" stroke="#ff0000" stroke-width="1.1" shape-rendering="auto"/>
<circle cx="353.02" cy="167.46" r="4.95" fill="#fff" stroke="#ff0000" stroke-width="1.1" shape-rendering="auto"/>
<circle cx="350.47" cy="166.31" r="4.95" fill="#fff" stroke="#ff0000" stroke-width="1.1" shape-rendering="auto"/>
<circle cx="347.93" cy="165.20" r="4.95" fill="#fff" stroke="#ff0000" stroke-width="1.1" shape-rendering="auto"/>
<circle cx="345.38" cy="164.13" r="4.95" fill="#fff" stroke="#ff0000" stroke-width="1.1" shape-rendering="auto"/>
<circle cx="342.84" cy="163.10" r="4.95" fill="#fff" stroke="#ff0000" stroke-width="1.1" shape-rendering="auto"/>
<circle cx="340.29" cy="162.10" r="4.95" fill="#fff" stroke="#ff0000" stroke-width="1.1" shape-rendering="auto"/>
<circle cx="337.75" cy="161.13" r="4.95" fill="#fff" stroke="#ff0000" stroke-width="1.1" shape-rendering="auto"/>
<circle cx="335.21" cy="160.19" r="4.95" fill="#fff" stroke="#ff0000" stroke-width="1.1" shape-rendering="auto"/>
<circle cx="332.66" cy="159.28" r="4.95" fill="#fff" stroke="#ff0000" stroke-width="1.1" shape-rendering="auto"/>
<circle cx="330.12" cy="158.39" r="4.95" fill="#fff" stroke="#ff0000" stroke-width="1.1" shape-rendering="auto"/>
<circle cx="327.57" cy="157.53" r="4.95" fill="#fff" stroke="#ff0000" stroke-width="1.1" shape-rendering="auto"/>
<circle cx="325.03" cy="156.69" r="4.95" fill="#fff" stroke="#ff0000" stroke-width="1.1" shape-rendering="auto"/>
<circle cx="322.48" cy="155.87" r="4.95" fill="#fff" stroke="#ff0000" stroke-width="1.1" shape-rendering="auto"/>
<circle cx="319.94" cy="155.08" r="4.95" fill="#fff" stroke="#ff0000" stroke-width="1.1" shape-rendering="auto"/>
<circle cx="317.39" cy="154.30" r="4.95" fill="#fff" stroke="#ff0000" stroke-width="1.1" shape-rendering="auto"/>
<circle cx="314.85" cy="153.54" r="4.95" fill="#fff" stroke="#ff0000" stroke-width="1.1" shape-rendering="auto"/>
<circle cx="312.31" cy="152.80" r="4.95" fill="#fff" stroke="#ff0000" stroke-width="1.1" shape-rendering="auto"/>
<circle cx="309.76" cy="152.07" r="4.95" fill="#fff" stroke="#ff0000" stroke-width="1.1" shape-rendering="auto"/>
<circle cx="307.22" cy="151.36" r="4.95" fill="#fff" stroke="#ff0000" stroke-width="1.1" shape-rendering="auto"/>
<circle cx="304.67" cy="150.66" r="4.95" fill="#fff" stroke="#ff0000" stroke-width="1.1" shape-rendering="auto"/>
<circle cx="302.13" cy="149.98" r="4.95" fill="#fff" stroke="#ff0000" stroke-width="1.1" shape-rendering="auto"/>
<circle cx="299.58" cy="149.31" r="4.95" fill="#fff" stroke="#ff0000" stroke-width="1.1" shape-rendering="auto"/>
<circle cx="297.04" cy="148.65" r="4.95" fill="#fff" stroke="#ff0000" stroke-width="1.1" shape-rendering="auto"/>
<circle cx="294.49" cy="148.00" r="4.95" fill="#fff" stroke="#ff0000" stroke-width="1.1" shape-rendering="auto"/>
<circle cx="291.95" cy="147.35" r="4.95" fill="#fff" stroke="#ff0000" stroke-width="1.1" shape-rendering="auto"/>
<circle cx="289.40" cy="146.72" r="4.95" fill="#fff" stroke="#ff0000" stroke-width="1.1" shape-rendering="auto"/>
<circle cx="286.86" cy="146.10" r="4.95" fill="#fff" stroke="#ff0000" stroke-width="1.1" shape-rendering="auto"/>
<circle cx="284.32" cy="145.49" r="4.95" fill="#fff" stroke="#ff0000" stroke-width="1.1" shape-rendering="auto"/>
<circle cx="281.77" cy="144.88" r="4.95" fill="#fff" stroke="#ff0000" stroke-width="1.1" shape-rendering="auto"/>
<circle cx="279.23" cy="144.28" r="4.95" fill="#fff" stroke="#ff0000" stroke-width="1.1" shape-rendering="auto"/>
<circle cx="276.68" cy="143.69" r="4.95" fill="#fff" stroke="#ff0000" stroke-width="1.1" shape-rendering="auto"/>
<circle cx="274.14" cy="143.10" r="4.95" fill="#fff" stroke="#ff0000" stroke-width="1.1" shape-rendering="auto"/>
<circle cx="271.59" cy="142.52" r="4.95" fill="#fff" stroke="#ff0000" stroke-width="1.1" shape-rendering="auto"/>
<circle cx="269.05" cy="141.95" r="4.95" fill="#fff" stroke="#ff0000" stroke-width="1.1" shape-rendering="auto"/>
<circle cx="266.50" cy="141.38" r="4.95" fill="#fff" stroke="#ff0000" stroke-width="1.1" shape-rendering="auto"/>
<circle cx="263.96" cy="140.81" r="4.95" fill="#fff" stroke="#ff0000" stroke-width="1.1" shape-rendering="auto"/>
<circle cx="261.42" cy="140.25" r="4.95" fill="#fff" stroke="#ff0000" stroke-width="1.1" shape-rendering="auto"/>
<circle cx="258.87" cy="139.69" r="4.95" fill="#fff" stroke="#ff0000" stroke-width="1.1" shape-rendering="auto"/>
<circle cx="256.33" cy="139.14" r="4.95" fill="#fff" stroke="#ff0000" stroke-width="1.1" shape-rendering="auto"/>
<circle cx="253.78" cy="138.59" r="4.95" fill="#fff" stroke="#ff0000" stroke-width="1.1" shape-rendering="auto"/>
<circle cx="251.24" cy="138.05" r="4.95" fill="#fff" stroke="#ff0000" stroke-width="1.1" shape-rendering="auto"/>
<circle cx="248.69" cy="137.51" r="4.95" fill="#fff" stroke="#ff0000" stroke-width="1.1" shape-rendering="auto"/>
<circle cx="246.15" cy="136.97" r="4.95" fill="#fff" stroke="#ff0000" stroke-width="1.1" shape-rendering="auto"/>
<circle cx="243.60" cy="136.43" r="4.95" fill="#fff" stroke="#ff0000" stroke-width="1.1" shape-rendering="auto"/>
<circle cx="241.06" cy="135.90" r="4.95" fill="#fff" stroke="#ff0000" stroke-width="1.1" shape-rendering="auto"/>
<circle cx="238.51" cy="135.36" r="4.95" fill="#fff" stroke="#ff0000" stroke-width="1.1" shape-rendering="auto"/>
<circle cx="235.97" cy="134.84" r="4.95" fill="#fff" stroke="#ff0000" stroke-width="1.1" shape-rendering="auto"/>
<circle cx="233.43" cy="134.31" r="4.95" fill="#fff" stroke="#ff0000" stroke-width="1.1" shape-rendering="auto"/>
<circle cx="230.88" cy="133.78" r="4.95" fill="#fff" stroke="#ff0000" stroke-width="1.1" shape-rendering="auto"/>
<circle cx="228.34" cy="133.26" r="4.95" fill="#fff" stroke="#ff0000" stroke-width="1.1" shape-rendering="auto"/>
<circle cx="225.79" cy="132.74" r="4.95" fill="#fff" stroke="#ff0000" stroke-width="1.1" shape-rendering="auto"/>
<circle cx="223.25" cy="132.22" r="4.95" fill="#fff" stroke="#ff0000" stroke-width="1.1" shape-rendering="auto"/>
<circle cx="220.70" cy="131.70" r="4.95" fill="#fff" stroke="#ff0000" stroke-width="1.1" shape-rendering="auto"/>
<circle cx="218.16" cy="131.19" r="4.95" fill="#fff" stroke="#ff0000" stroke-width="1.1" shape-rendering="auto"/>
<circle cx="215.61" cy="130.67" r="4.95" fill="#fff" stroke="#ff0000" stroke-width="1.1" shape-rendering="auto"/>
<circle cx="213.07" cy="130.16" r="4.95" fill="#fff" stroke="#ff0000" stroke-width="1.1" shape-rendering="auto"/>
<circle cx="210.52" cy="129.64" r="4.95" fill="#fff" stroke="#ff0000" stroke-width="1.1" shape-rendering="auto"/>
<circle cx="207.98" cy="129.13" r="4.95" fill="#fff" stroke="#ff0000" stroke-width="1.1" shape-rendering="auto"/>
<circle cx="205.44" cy="128.62" r="4.95" fill="#fff" stroke="#ff0000" stroke-width="1.1" shape-rendering="auto"/>
<circle cx="202.89" cy="128.11" r="4.95" fill="#fff" stroke="#ff0000" stroke-width="1.1" shape-rendering="auto"/>
<circle cx="200.35" cy="127.60" r="4.95" fill="#fff" stroke="#ff0000" stroke-width="1.1" shape-rendering="auto"/>
<circle cx="197.80" cy="127.09" r="4.95" fill="#fff" stroke="#ff0000" stroke-width="1.1" shape-rendering="auto"/>
<circle cx="195.26" cy="126.59" r="4.95" fill="#fff" stroke="#ff0000" stroke-width="1.1" shape-rendering="auto"/>
<circle cx="192.71" cy="126.08" r="4.95" fill="#fff" stroke="#ff0000" stroke-width="1.1" shape-rendering="auto"/>
<circle cx="190.17" cy="125.57" r="4.95" fill="#fff" stroke="#ff0000" stroke-width="1.1" shape-rendering="auto"/>
<circle cx="187.62" cy="125.07" r="4.95" fill="#fff" stroke="#ff0000" stroke-width="1.1" shape-rendering="auto"/>
<circle cx="185.08" cy="124.56" r="4.95" fill="#fff" stroke="#ff0000" stroke-width="1.1" shape-rendering="auto"/>
<circle cx="182.54" cy="124.06" r="4.95" fill="#fff" stroke="#ff0000" stroke-width="1.1" shape-rendering="auto"/>
<circle cx="179.99" cy="123.56" r="4.95" fill="#fff" stroke="#ff0000" stroke-width="1.1" shape-rendering="auto"/>
<circle cx="177.45" cy="123.05" r="4.95" fill="#fff" stroke="#ff0000" stroke-width="1.1" shape-rendering="auto"/>
<circle cx="174.90" cy="122.55" r="4.95" fill="#fff" stroke="#ff0000" stroke-width="1.1" shape-rendering="auto"/>
<circle cx="172.36" cy="122.05" r="4.95" fill="#fff" stroke="#ff0000" stroke-width="1.1" shape-rendering="auto"/>
<circle cx="169.81" cy="121.55" r="4.95" fill="#fff" stroke="#ff0000" stroke-width="1.1" shape-rendering="auto"/>
<circle cx="167.27" cy="121.05" r="4.95" fill="#fff" stroke="#ff0000" stroke-width="1.1" shape-rendering="auto"/>
<circle cx="164.72" cy="120.54" r="4.95" fill="#fff" stroke="#ff0000" stroke-width="1.1" shape-rendering="auto"/>
<circle cx="162.18" cy="120.04" r="4.95" fill="#fff" stroke="#ff0000" stroke-width="1.1" shape-rendering="auto"/>
<circle cx="159.63" cy="119.54" r="4.95" fill="#fff" stroke="#ff0000" stroke-width="1.1" shape-rendering="auto"/>
<circle cx="157.09" cy="119.04" r="4.95" fill="#fff" stroke="#ff0000" stroke-width="1.1" shape-rendering="auto"/>
<circle cx="154.55" cy="118.54" r="4.95" fill="#fff" stroke="#ff0000" stroke-width="1.1" shape-rendering="auto"/>
<circle cx="152.00" cy="118.04" r="4.95" fill="#fff" stroke="#ff0000" stroke-width="1.1" shape-rendering="auto"/>
<circle cx="149.46" cy="117.54" r="4.95" fill="#fff" stroke="#ff0000" stroke-width="1.1" shape-rendering="auto"/>
<circle cx="146.91" cy="117.04" r="4.95" fill="#fff" stroke="#ff0000" stroke-width="1.1" shape-rendering="auto"/>
<circle cx="144.37" cy="116.55" r="4.95" fill="#fff" stroke="#ff0000" stroke-width="1.1" shape-rendering="auto"/>
<circle cx="141.82" cy="116.05" r="4.95" fill="#fff" stroke="#ff0000" stroke-width="1.1" shape-rendering="auto"/>
<circle cx="139.28" cy="115.55" r="4.95" fill="#fff" stroke="#ff0000" stroke-width="1.1" shape-rendering="auto"/>
<circle cx="136.73" cy="115.05" r="4.95" fill="#fff" stroke="#ff0000" stroke-width="1.1" shape-rendering="auto"/>
<circle cx="134.19" cy="114.55" r="4.95" fill="#fff" stroke="#ff0000" stroke-width="1.1" shape-rendering="auto"/>
<circle cx="131.65" cy="114.05" r="4.95" fill="#fff" stroke="#ff0000" stroke-width="1.1" shape-rendering="auto"/>
<circle cx="129.10" cy="113.55" r="4.95" fill="#fff" stroke="#ff0000" stroke-width="1.1" shape-rendering="auto"/>
<circle cx="126.56" cy="113.06" r="4.95" fill="#fff" stroke="#ff0000" stroke-width="1.1" shape-rendering="auto"/>
<circle cx="124.01" cy="112.56" r="4.95" fill="#fff" stroke="#ff0000" stroke-width="1.1" shape-rendering="auto"/>
<circle cx="121.47" cy="112.06" r="4.95" fill="#fff" stroke="#ff0000" stroke-width="1.1" shape-rendering="auto"/>
<circle cx="118.92" cy="111.56" r="4.95" fill="#fff" stroke="#ff0000" stroke-width="1.1" shape-rendering="auto"/>
<circle cx="116.38" cy="111.07" r="4.95" fill="#fff" stroke="#ff0000" stroke-width="1.1" shape-rendering="auto"/>
<circle cx="113.83" cy="110.57" r="4.95" fill="#fff" stroke="#ff0000" stroke-width="1.1" shape-rendering="auto"/>
<circle cx="111.29" cy="110.07" r="4.95" fill="#fff" stroke="#ff0000" stroke-width="1.1" shape-rendering="auto"/>
<circle cx="108.75" cy="109.57" r="4.95" fill="#fff" stroke="#ff0000" stroke-width="1.1" shape-rendering="auto"/>
<circle cx="106.20" cy="109.08" r="4.95" fill="#fff" stroke="#ff0000" stroke-width="1.1" shape-rendering="auto"/>
<circle cx="103.66" cy="108.58" r="4.95" fill="#fff" stroke="#ff0000" stroke-width="1.1" shape-rendering="auto"/>
<circle cx="101.11" cy="108.08" r="4.95" fill="#fff" stroke="#ff0000" stroke-width="1.1" shape-rendering="auto"/>
<circle cx="98.57" cy="107.58" r="4.95" fill="#fff" stroke="#ff0000" stroke-width="1.1" shape-rendering="auto"/>
<circle cx="96.02" cy="107.09" r="4.95" fill="#fff" stroke="#ff0000" stroke-width="1.1" shape-rendering="auto"/>
<circle cx="93.48" cy="106.59" r="4.95" fill="#fff" stroke="#ff0000" stroke-width="1.1" shape-rendering="auto"/>
<circle cx="90.93" cy="106.09" r="4.95" fill="#fff" stroke="#ff0000" stroke-width="1.1" shape-rendering="auto"/>
<circle cx="88.39" cy="105.60" r="4.95" fill="#fff" stroke="#ff0000" stroke-width="1.1" shape-rendering="auto"/>
<circle cx="85.84" cy="105.10" r="4.95" fill="#fff" stroke="#ff0000" stroke-width="1.1" shape-rendering="auto"/>
<circle cx="83.30" cy="104.60" r="4.95" fill="#fff" stroke="#ff0000" stroke-width="1.1" shape-rendering="auto"/>
<rect x="480.98" y="347.41" width="8.7" height="8.7" fill="#fff" stroke="#008000" stroke-width="1.3" shape-rendering="auto"/>
<rect x="478.44" y="341.55" width="8.7" height="8.7" fill="#fff" stroke="#008000" stroke-width="1.3" shape-rendering="auto"/>
<rect x="475.89" y="335.74" width="8.7" height="8.7" fill="#fff" stroke="#008000" stroke-width="1.3" shape-rendering="auto"/>
<rect x="473.35" y="329.98" width="8.7" height="8.7" fill="#fff" stroke="#008000" stroke-width="1.3" shape-rendering="auto"/>
<rect x="470.80" y="324.27" width="8.7" height="8.7" fill="#fff" stroke="#008000" stroke-width="1.3" shape-rendering="auto"/>
<rect x="468.26" y="318.61" width="8.7" height="8.7" fill="#fff" stroke="#008000" stroke-width="1.3" shape-rendering="auto"/>
<rect x="465.71" y="313.01" width="8.7" height="8.7" fill="#fff" stroke="#008000" stroke-width="1.3" shape-rendering="auto"/>
<rect x="463.17" y="307.47" width="8.7" height="8.7" fill="#fff" stroke="#008000" stroke-width="1.3" shape-rendering="auto"/>
<rect x="460.62" y="301.99" width="8.7" height="8.7" fill="#fff" stroke="#008000" stroke-width="1.3" shape-rendering="auto"/>
<rect x="458.08" y="296.57" width="8.7" height="8.7" fill="#fff" stroke="#008000" stroke-width="1.3" shape-rendering="auto"/>
<rect x="455.54" y="291.22" width="8.7" height="8.7" fill="#fff" stroke="#008000" stroke-width="1.3" shape-rendering="auto"/>
<rect x="452.99" y="285.94" width="8.7" height="8.7" fill="#fff" stroke="#008000" stroke-width="1.3" shape-rendering="auto"/>
<rect x="450.45" y="280.73" width="8.7" height="8.7" fill="#fff" stroke="#008000" stroke-width="1.3" shape-rendering="auto"/>
<rect x="447.90" y="275.60" width="8.7" height="8.7" fill="#fff" stroke="#008000" stroke-width="1.3" shape-rendering="auto"/>
<rect x="445.36" y="270.55" width="8.7" height="8.7" fill="#fff" stroke="#008000" stroke-width="1.3" shape-rendering="auto"/>
<rect x="442.81" y="265.59" width="8.7" height="8.7" fill="#fff" stroke="#008000" stroke-width="1.3" shape-rendering="auto"/>
<rect x="440.27" y="260.71" width="8.7" height="8.7" fill="#fff" stroke="#008000" stroke-width="1.3" shape-rendering="auto"/>
<rect x="437.72" y="255.93" width="8.7" height="8.7" fill="#fff" stroke="#008000" stroke-width="1.3" shape-rendering="auto"/>
<rect x="435.18" y="251.24" width="8.7" height="8.7" fill="#fff" stroke="#008000" stroke-width="1.3" shape-rendering="auto"/>
<rect x="432.64" y="246.65" width="8.7" height="8.7" fill="#fff" stroke="#008000" stroke-width="1.3" shape-rendering="auto"/>
<rect x="430.09" y="242.17" width="8.7" height="8.7" fill="#fff" stroke="#008000" stroke-width="1.3" shape-rendering="auto"/>
<rect x="427.55" y="237.80" width="8.7" height="8.7" fill="#fff" stroke="#008000" stroke-width="1.3" shape-rendering="auto"/>
<rect x="425.00" y="233.55" width="8.7" height="8.7" fill="#fff" stroke="#008000" stroke-width="1.3" shape-rendering="auto"/>
<rect x="422.46" y="229.41" width="8.7" height="8.7" fill="#fff" stroke="#008000" stroke-width="1.3" shape-rendering="auto"/>
<rect x="419.91" y="225.39" width="8.7" height="8.7" fill="#fff" stroke="#008000" stroke-width="1.3" shape-rendering="auto"/>
<rect x="417.37" y="221.51" width="8.7" height="8.7" fill="#fff" stroke="#008000" stroke-width="1.3" shape-rendering="auto"/>
<rect x="414.82" y="217.75" width="8.7" height="8.7" fill="#fff" stroke="#008000" stroke-width="1.3" shape-rendering="auto"/>
<rect x="412.28" y="214.13" width="8.7" height="8.7" fill="#fff" stroke="#008000" stroke-width="1.3" shape-rendering="auto"/>
<rect x="409.73" y="210.65" width="8.7" height="8.7" fill="#fff" stroke="#008000" stroke-width="1.3" shape-rendering="auto"/>
<rect x="407.19" y="207.31" width="8.7" height="8.7" fill="#fff" stroke="#008000" stroke-width="1.3" shape-rendering="auto"/>
<rect x="404.65" y="204.11" width="8.7" height="8.7" fill="#fff" stroke="#008000" stroke-width="1.3" shape-rendering="auto"/>
<rect x="402.10" y="201.05" width="8.7" height="8.7" fill="#fff" stroke="#008000" stroke-width="1.3" shape-rendering="auto"/>
<rect x="399.56" y="198.15" width="8.7" height="8.7" fill="#fff" stroke="#008000" stroke-width="1.3" shape-rendering="auto"/>
<rect x="397.01" y="195.38" width="8.7" height="8.7" fill="#fff" stroke="#008000" stroke-width="1.3" shape-rendering="auto"/>
<rect x="394.47" y="192.77" width="8.7" height="8.7" fill="#fff" stroke="#008000" stroke-width="1.3" shape-rendering="auto"/>
<rect x="391.92" y="190.30" width="8.7" height="8.7" fill="#fff" stroke="#008000" stroke-width="1.3" shape-rendering="auto"/>
<rect x="389.38" y="187.96" width="8.7" height="8.7" fill="#fff" stroke="#008000" stroke-width="1.3" shape-rendering="auto"/>
<rect x="386.83" y="185.77" width="8.7" height="8.7" fill="#fff" stroke="#008000" stroke-width="1.3" shape-rendering="auto"/>
<rect x="384.29" y="183.71" width="8.7" height="8.7" fill="#fff" stroke="#008000" stroke-width="1.3" shape-rendering="auto"/>
<rect x="381.75" y="181.78" width="8.7" height="8.7" fill="#fff" stroke="#008000" stroke-width="1.3" shape-rendering="auto"/>
<rect x="379.20" y="179.97" width="8.7" height="8.7" fill="#fff" stroke="#008000" stroke-width="1.3" shape-rendering="auto"/>
<rect x="376.66" y="178.28" width="8.7" height="8.7" fill="#fff" stroke="#008000" stroke-width="1.3" shape-rendering="auto"/>
<rect x="374.11" y="176.69" width="8.7" height="8.7" fill="#fff" stroke="#008000" stroke-width="1.3" shape-rendering="auto"/>
<rect x="371.57" y="175.21" width="8.7" height="8.7" fill="#fff" stroke="#008000" stroke-width="1.3" shape-rendering="auto"/>
<rect x="369.02" y="173.83" width="8.7" height="8.7" fill="#fff" stroke="#008000" stroke-width="1.3" shape-rendering="auto"/>
<rect x="366.48" y="172.54" width="8.7" height="8.7" fill="#fff" stroke="#008000" stroke-width="1.3" shape-rendering="auto"/>
<rect x="363.93" y="171.32" width="8.7" height="8.7" fill="#fff" stroke="#008000" stroke-width="1.3" shape-rendering="auto"/>
<rect x="361.39" y="170.19" width="8.7" height="8.7" fill="#fff" stroke="#008000" stroke-width="1.3" shape-rendering="auto"/>
<rect x="358.84" y="169.12" width="8.7" height="8.7" fill="#fff" stroke="#008000" stroke-width="1.3" shape-rendering="auto"/>
<rect x="356.30" y="168.11" width="8.7" height="8.7" fill="#fff" stroke="#008000" stroke-width="1.3" shape-rendering="auto"/>
<rect x="353.76" y="167.16" width="8.7" height="8.7" fill="#fff" stroke="#008000" stroke-width="1.3" shape-rendering="auto"/>
<rect x="351.21" y="166.26" width="8.7" height="8.7" fill="#fff" stroke="#008000" stroke-width="1.3" shape-rendering="auto"/>
<rect x="348.67" y="165.40" width="8.7" height="8.7" fill="#fff" stroke="#008000" stroke-width="1.3" shape-rendering="auto"/>
<rect x="346.12" y="164.58" width="8.7" height="8.7" fill="#fff" stroke="#008000" stroke-width="1.3" shape-rendering="auto"/>
<rect x="343.58" y="163.80" width="8.7" height="8.7" fill="#fff" stroke="#008000" stroke-width="1.3" shape-rendering="auto"/>
<rect x="341.03" y="163.05" width="8.7" height="8.7" fill="#fff" stroke="#008000" stroke-width="1.3" shape-rendering="auto"/>
<rect x="338.49" y="162.33" width="8.7" height="8.7" fill="#fff" stroke="#008000" stroke-width="1.3" shape-rendering="auto"/>
<rect x="335.94" y="161.63" width="8.7" height="8.7" fill="#fff" stroke="#008000" stroke-width="1.3" shape-rendering="auto"/>
<rect x="333.40" y="160.96" width="8.7" height="8.7" fill="#fff" stroke="#008000" stroke-width="1.3" shape-rendering="auto"/>
<rect x="330.86" y="160.30" width="8.7" height="8.7" fill="#fff" stroke="#008000" stroke-width="1.3" shape-rendering="auto"/>
<rect x="328.31" y="159.66" width="8.7" height="8.7" fill="#fff" stroke="#008000" stroke-width="1.3" shape-rendering="auto"/>
<rect x="325.77" y="159.04" width="8.7" height="8.7" fill="#fff" stroke="#008000" stroke-width="1.3" shape-rendering="auto"/>
<rect x="323.22" y="158.43" width="8.7" height="8.7" fill="#fff" stroke="#008000" stroke-width="1.3" shape-rendering="auto"/>
<rect x="320.68" y="157.83" width="8.7" height="8.7" fill="#fff" stroke="#008000" stroke-width="1.3" shape-rendering="auto"/>
<rect x="318.13" y="157.24" width="8.7" height="8.7" fill="#fff" stroke="#008000" stroke-width="1.3" shape-rendering="auto"/>
<rect x="315.59" y="156.66" width="8.7" height="8.7" fill="#fff" stroke="#008000" stroke-width="1.3" shape-rendering="auto"/>
<rect x="313.04" y="156.09" width="8.7" height="8.7" fill="#fff" stroke="#008000" stroke-width="1.3" shape-rendering="auto"/>
<rect x="310.50" y="155.52" width="8.7" height="8.7" fill="#fff" stroke="#008000" stroke-width="1.3" shape-rendering="auto"/>
<rect x="307.95" y="154.96" width="8.7" height="8.7" fill="#fff" stroke="#008000" stroke-width="1.3" shape-rendering="auto"/>
<rect x="305.41" y="154.40" width="8.7" height="8.7" fill="#fff" stroke="#008000" stroke-width="1.3" shape-rendering="auto"/>
<rect x="302.87" y="153.85" width="8.7" height="8.7" fill="#fff" stroke="#008000" stroke-width="1.3" shape-rendering="auto"/>
<rect x="300.32" y="153.31" width="8.7" height="8.7" fill="#fff" stroke="#008000" stroke-width="1.3" shape-rendering="auto"/>
<rect x="297.78" y="152.76" width="8.7" height="8.7" fill="#fff" stroke="#008000" stroke-width="1.3" shape-rendering="auto"/>
<rect x="295.23" y="152.22" width="8.7" height="8.7" fill="#fff" stroke="#008000" stroke-width="1.3" shape-rendering="auto"/>
<rect x="292.69" y="151.69" width="8.7" height="8.7" fill="#fff" stroke="#008000" stroke-width="1.3" shape-rendering="auto"/>
<rect x="290.14" y="151.15" width="8.7" height="8.7" fill="#fff" stroke="#008000" stroke-width="1.3" shape-rendering="auto"/>
<rect x="287.60" y="150.62" width="8.7" height="8.7" fill="#fff" stroke="#008000" stroke-width="1.3" shape-rendering="auto"/>
<rect x="285.05" y="150.08" width="8.7" height="8.7" fill="#fff" stroke="#008000" stroke-width="1.3" shape-rendering="auto"/>
<rect x="282.51" y="149.55" width="8.7" height="8.7" fill="#fff" stroke="#008000" stroke-width="1.3" shape-rendering="auto"/>
<rect x="279.97" y="149.03" width="8.7" height="8.7" fill="#fff" stroke="#008000" stroke-width="1.3" shape-rendering="auto"/>
<rect x="277.42" y="148.50" width="8.7" height="8.7" fill="#fff" stroke="#008000" stroke-width="1.3" shape-rendering="auto"/>
<rect x="274.88" y="147.97" width="8.7" height="8.7" fill="#fff" stroke="#008000" stroke-width="1.3" shape-rendering="auto"/>
<rect x="272.33" y="147.44" width="8.7" height="8.7" fill="#fff" stroke="#008000" stroke-width="1.3" shape-rendering="auto"/>
<rect x="269.79" y="146.92" width="8.7" height="8.7" fill="#fff" stroke="#008000" stroke-width="1.3" shape-rendering="auto"/>
<rect x="267.24" y="146.39" width="8.7" height="8.7" fill="#fff" stroke="#008000" stroke-width="1.3" shape-rendering="auto"/>
<rect x="264.70" y="145.87" width="8.7" height="8.7" fill="#fff" stroke="#008000" stroke-width="1.3" shape-rendering="auto"/>
<rect x="262.15" y="145.35" width="8.7" height="8.7" fill="#fff" stroke="#008000" stroke-width="1.3" shape-rendering="auto"/>
<rect x="259.61" y="144.82" width="8.7" height="8.7" fill="#fff" stroke="#008000" stroke-width="1.3" shape-rendering="auto"/>
<rect x="257.06" y="144.30" width="8.7" height="8.7" fill="#fff" stroke="#008000" stroke-width="1.3" shape-rendering="auto"/>
<rect x="254.52" y="143.78" width="8.7" height="8.7" fill="#fff" stroke="#008000" stroke-width="1.3" shape-rendering="auto"/>
<rect x="251.98" y="143.26" width="8.7" height="8.7" fill="#fff" stroke="#008000" stroke-width="1.3" shape-rendering="auto"/>
<rect x="249.43" y="142.73" width="8.7" height="8.7" fill="#fff" stroke="#008000" stroke-width="1.3" shape-rendering="auto"/>
<rect x="246.89" y="142.21" width="8.7" height="8.7" fill="#fff" stroke="#008000" stroke-width="1.3" shape-rendering="auto"/>
<rect x="244.34" y="141.69" width="8.7" height="8.7" fill="#fff" stroke="#008000" stroke-width="1.3" shape-rendering="auto"/>
<rect x="241.80" y="141.17" width="8.7" height="8.7" fill="#fff" stroke="#008000" stroke-width="1.3" shape-rendering="auto"/>
<rect x="239.25" y="140.65" width="8.7" height="8.7" fill="#fff" stroke="#008000" stroke-width="1.3" shape-rendering="auto"/>
<rect x="236.71" y="140.13" width="8.7" height="8.7" fill="#fff" stroke="#008000" stroke-width="1.3" shape-rendering="auto"/>
<rect x="234.16" y="139.61" width="8.7" height="8.7" fill="#fff" stroke="#008000" stroke-width="1.3" shape-rendering="auto"/>
<rect x="231.62" y="139.08" width="8.7" height="8.7" fill="#fff" stroke="#008000" stroke-width="1.3" shape-rendering="auto"/>
<rect x="229.08" y="138.56" width="8.7" height="8.7" fill="#fff" stroke="#008000" stroke-width="1.3" shape-rendering="auto"/>
<rect x="226.53" y="138.04" width="8.7" height="8.7" fill="#fff" stroke="#008000" stroke-width="1.3" shape-rendering="auto"/>
<rect x="223.99" y="137.52" width="8.7" height="8.7" fill="#fff" stroke="#008000" stroke-width="1.3" shape-rendering="auto"/>
<rect x="221.44" y="137.00" width="8.7" height="8.7" fill="#fff" stroke="#008000" stroke-width="1.3" shape-rendering="auto"/>
<rect x="218.90" y="136.48" width="8.7" height="8.7" fill="#fff" stroke="#008000" stroke-width="1.3" shape-rendering="auto"/>
<rect x="216.35" y="135.96" width="8.7" height="8.7" fill="#fff" stroke="#008000" stroke-width="1.3" shape-rendering="auto"/>
<rect x="213.81" y="135.44" width="8.7" height="8.7" fill="#fff" stroke="#008000" stroke-width="1.3" shape-rendering="auto"/>
<rect x="211.26" y="134.92" width="8.7" height="8.7" fill="#fff" stroke="#008000" stroke-width="1.3" shape-rendering="auto"/>
<rect x="208.72" y="134.40" width="8.7" height="8.7" fill="#fff" stroke="#008000" stroke-width="1.3" shape-rendering="auto"/>
<rect x="206.17" y="133.88" width="8.7" height="8.7" fill="#fff" stroke="#008000" stroke-width="1.3" shape-rendering="auto"/>
<rect x="203.63" y="133.36" width="8.7" height="8.7" fill="#fff" stroke="#008000" stroke-width="1.3" shape-rendering="auto"/>
<rect x="201.09" y="132.84" width="8.7" height="8.7" fill="#fff" stroke="#008000" stroke-width="1.3" shape-rendering="auto"/>
<rect x="198.54" y="132.32" width="8.7" height="8.7" fill="#fff" stroke="#008000" stroke-width="1.3" shape-rendering="auto"/>
<rect x="196.00" y="131.80" width="8.7" height="8.7" fill="#fff" stroke="#008000" stroke-width="1.3" shape-rendering="auto"/>
<rect x="193.45" y="131.28" width="8.7" height="8.7" fill="#fff" stroke="#008000" stroke-width="1.3" shape-rendering="auto"/>
<rect x="190.91" y="130.75" width="8.7" height="8.7" fill="#fff" stroke="#008000" stroke-width="1.3" shape-rendering="auto"/>
<rect x="188.36" y="130.23" width="8.7" height="8.7" fill="#fff" stroke="#008000" stroke-width="1.3" shape-rendering="auto"/>
<rect x="185.82" y="129.71" width="8.7" height="8.7" fill="#fff" stroke="#008000" stroke-width="1.3" shape-rendering="auto"/>
<rect x="183.27" y="129.19" width="8.7" height="8.7" fill="#fff" stroke="#008000" stroke-width="1.3" shape-rendering="auto"/>
<rect x="180.73" y="128.67" width="8.7" height="8.7" fill="#fff" stroke="#008000" stroke-width="1.3" shape-rendering="auto"/>
<rect x="178.19" y="128.15" width="8.7" height="8.7" fill="#fff" stroke="#008000" stroke-width="1.3" shape-rendering="auto"/>
<rect x="175.64" y="127.63" width="8.7" height="8.7" fill="#fff" stroke="#008000" stroke-width="1.3" shape-rendering="auto"/>
<rect x="173.10" y="127.11" width="8.7" height="8.7" fill="#fff" stroke="#008000" stroke-width="1.3" shape-rendering="auto"/>
<rect x="170.55" y="126.59" width="8.7" height="8.7" fill="#fff" stroke="#008000" stroke-width="1.3" shape-rendering="auto"/>
<rect x="168.01" y="126.07" width="8.7" height="8.7" fill="#fff" stroke="#008000" stroke-width="1.3" shape-rendering="auto"/>
<rect x="165.46" y="125.55" width="8.7" height="8.7" fill="#fff" stroke="#008000" stroke-width="1.3" shape-rendering="auto"/>
<rect x="162.92" y="125.03" width="8.7" height="8.7" fill="#fff" stroke="#008000" stroke-width="1.3" shape-rendering="auto"/>
<rect x="160.37" y="124.51" width="8.7" height="8.7" fill="#fff" stroke="#008000" stroke-width="1.3" shape-rendering="auto"/>
<rect x="157.83" y="123.99" width="8.7" height="8.7" fill="#fff" stroke="#008000" stroke-width="1.3" shape-rendering="auto"/>
<rect x="155.28" y="123.47" width="8.7" height="8.7" fill="#fff" stroke="#008000" stroke-width="1.3" shape-rendering="auto"/>
<rect x="152.74" y="122.95" width="8.7" height="8.7" fill="#fff" stroke="#008000" stroke-width="1.3" shape-rendering="auto"/>
<rect x="150.20" y="122.43" width="8.7" height="8.7" fill="#fff" stroke="#008000" stroke-width="1.3" shape-rendering="auto"/>
<rect x="147.65" y="121.91" width="8.7" height="8.7" fill="#fff" stroke="#008000" stroke-width="1.3" shape-rendering="auto"/>
<rect x="145.11" y="121.39" width="8.7" height="8.7" fill="#fff" stroke="#008000" stroke-width="1.3" shape-rendering="auto"/>
<rect x="142.56" y="120.87" width="8.7" height="8.7" fill="#fff" stroke="#008000" stroke-width="1.3" shape-rendering="auto"/>
<rect x="140.02" y="120.35" width="8.7" height="8.7" fill="#fff" stroke="#008000" stroke-width="1.3" shape-rendering="auto"/>
<rect x="137.47" y="119.83" width="8.7" height="8.7" fill="#fff" stroke="#008000" stroke-width="1.3" shape-rendering="auto"/>
<rect x="134.93" y="119.31" width="8.7" height="8.7" fill="#fff" stroke="#008000" stroke-width="1.3" shape-rendering="auto"/>
<rect x="132.38" y="118.79" width="8.7" height="8.7" fill="#fff" stroke="#008000" stroke-width="1.3" shape-rendering="auto"/>
<rect x="129.84" y="118.27" width="8.7" height="8.7" fill="#fff" stroke="#008000" stroke-width="1.3" shape-rendering="auto"/>
<rect x="127.30" y="117.75" width="8.7" height="8.7" fill="#fff" stroke="#008000" stroke-width="1.3" shape-rendering="auto"/>
<rect x="124.75" y="117.23" width="8.7" height="8.7" fill="#fff" stroke="#008000" stroke-width="1.3" shape-rendering="auto"/>
<rect x="122.21" y="116.70" width="8.7" height="8.7" fill="#fff" stroke="#008000" stroke-width="1.3" shape-rendering="auto"/>
<rect x="119.66" y="116.18" width="8.7" height="8.7" fill="#fff" stroke="#008000" stroke-width="1.3" shape-rendering="auto"/>
<rect x="117.12" y="115.66" width="8.7" height="8.7" fill="#fff" stroke="#008000" stroke-width="1.3" shape-rendering="auto"/>
<rect x="114.57" y="115.14" width="8.7" height="8.7" fill="#fff" stroke="#008000" stroke-width="1.3" shape-rendering="auto"/>
<rect x="112.03" y="114.62" width="8.7" height="8.7" fill="#fff" stroke="#008000" stroke-width="1.3" shape-rendering="auto"/>
<rect x="109.48" y="114.10" width="8.7" height="8.7" fill="#fff" stroke="#008000" stroke-width="1.3" shape-rendering="auto"/>
<rect x="106.94" y="113.58" width="8.7" height="8.7" fill="#fff" stroke="#008000" stroke-width="1.3" shape-rendering="auto"/>
<rect x="104.40" y="113.06" width="8.7" height="8.7" fill="#fff" stroke="#008000" stroke-width="1.3" shape-rendering="auto"/>
<rect x="101.85" y="112.54" width="8.7" height="8.7" fill="#fff" stroke="#008000" stroke-width="1.3" shape-rendering="auto"/>
<rect x="99.31" y="112.02" width="8.7" height="8.7" fill="#fff" stroke="#008000" stroke-width="1.3" shape-rendering="auto"/>
<rect x="96.76" y="111.50" width="8.7" height="8.7" fill="#fff" stroke="#008000" stroke-width="1.3" shape-rendering="auto"/>
<rect x="94.22" y="110.98" width="8.7" height="8.7" fill="#fff" stroke="#008000" stroke-width="1.3" shape-rendering="auto"/>
<rect x="91.67" y="110.46" width="8.7" height="8.7" fill="#fff" stroke="#008000" stroke-width="1.3" shape-rendering="auto"/>
<rect x="89.13" y="109.94" width="8.7" height="8.7" fill="#fff" stroke="#008000" stroke-width="1.3" shape-rendering="auto"/>
<rect x="86.58" y="109.42" width="8.7" height="8.7" fill="#fff" stroke="#008000" stroke-width="1.3" shape-rendering="auto"/>
<rect x="84.04" y="108.90" width="8.7" height="8.7" fill="#fff" stroke="#008000" stroke-width="1.3" shape-rendering="auto"/>
<rect x="81.49" y="108.38" width="8.7" height="8.7" fill="#fff" stroke="#008000" stroke-width="1.3" shape-rendering="auto"/>
<rect x="78.95" y="107.86" width="8.7" height="8.7" fill="#fff" stroke="#008000" stroke-width="1.3" shape-rendering="auto"/>
<polygon points="363.19,342.81 369.14,352.91 357.25,352.91" fill="#fff" stroke="#8000ff" stroke-width="1"/>
<polygon points="360.65,340.96 366.60,351.06 354.70,351.06" fill="#fff" stroke="#8000ff" stroke-width="1"/>
<polygon points="358.11,339.10 364.06,349.20 352.16,349.20" fill="#fff" stroke="#8000ff" stroke-width="1"/>
<polygon points="355.56,337.24 361.51,347.34 349.61,347.34" fill="#fff" stroke="#8000ff" stroke-width="1"/>
<polygon points="353.02,335.39 358.97,345.49 347.07,345.49" fill="#fff" stroke="#8000ff" stroke-width="1"/>
<polygon points="350.47,333.54 356.42,343.64 344.52,343.64" fill="#fff" stroke="#8000ff" stroke-width="1"/>
<polygon points="347.93,331.68 353.88,341.78 341.98,341.78" fill="#fff" stroke="#8000ff" stroke-width="1"/>
<polygon points="345.38,329.83 351.33,339.93 339.43,339.93" fill="#fff" stroke="#8000ff" stroke-width="1"/>
<polygon points="342.84,327.98 348.79,338.08 336.89,338.08" fill="#fff" stroke="#8000ff" stroke-width="1"/>
<polygon points="340.29,326.13 346.24,336.23 334.34,336.23" fill="#fff" stroke="#8000ff" stroke-width="1"/>
<polygon points="337.75,324.29 343.70,334.39 331.80,334.39" fill="#fff" stroke="#8000ff" stroke-width="1"/>
<polygon points="335.21,322.44 341.16,332.54 329.26,332.54" fill="#fff" stroke="#8000ff" stroke-width="1"/>
<polygon points="332.66,320.59 338.61,330.69 326.71,330.69" fill="#fff" stroke="#8000ff" stroke-width="1"/>
<polygon points="330.12,318.75 336.07,328.85 324.17,328.85" fill="#fff" stroke="#8000ff" stroke-width="1"/>
<polygon points="327.57,316.90 333.52,327.00 321.62,327.00" fill="#fff" stroke="#8000ff" stroke-width="1"/>
<polygon points="325.03,315.06 330.98,325.16 319.08,325.16" fill="#fff" stroke="#8000ff" stroke-width="1"/>
<polygon points="322.48,313.22 328.43,323.32 316.53,323.32" fill="#fff" stroke="#8000ff" stroke-width="1"/>
<polygon points="319.94,311.38 325.89,321.48 313.99,321.48" fill="#fff" stroke="#8000ff" stroke-width="1"/>
<polygon points="317.39,309.54 323.34,319.64 311.44,319.64" fill="#fff" stroke="#8000ff" stroke-width="1"/>
<polygon points="314.85,307.70 320.80,317.80 308.90,317.80" fill="#fff" stroke="#8000ff" stroke-width="1"/>
<polygon points="312.31,305.86 318.25,315.96 306.36,315.96" fill="#fff" stroke="#8000ff" stroke-width="1"/>
<polygon points="309.76,304.03 315.71,314.13 303.81,314.13" fill="#fff" stroke="#8000ff" stroke-width="1"/>
<polygon points="307.22,302.19 313.17,312.29 301.27,312.29" fill="#fff" stroke="#8000ff" stroke-width="1"/>
<polygon points="304.67,300.36 310.62,310.46 298.72,310.46" fill="#fff" stroke="#8000ff" stroke-width="1"/>
<polygon points="302.13,298.52 308.08,308.62 296.18,308.62" fill="#fff" stroke="#8000ff" stroke-width="1"/>
<polygon points="299.58,296.69 305.53,306.79 293.63,306.79" fill="#fff" stroke="#8000ff" stroke-width="1"/>
<polygon points="297.04,294.86 302.99,304.96 291.09,304.96" fill="#fff" stroke="#8000ff" stroke-width="1"/>
<polygon points="294.49,293.03 300.44,303.13 288.54,303.13" fill="#fff" stroke="#8000ff" stroke-width="1"/>
<polygon points="291.95,291.20 297.90,301.30 286.00,301.30" fill="#fff" stroke="#8000ff" stroke-width="1"/>
<polygon points="289.40,289.37 295.35,299.47 283.45,299.47" fill="#fff" stroke="#8000ff" stroke-width="1"/>
<polygon points="286.86,287.54 292.81,297.64 280.91,297.64" fill="#fff" stroke="#8000ff" stroke-width="1"/>
<polygon points="284.32,285.72 290.27,295.82 278.37,295.82" fill="#fff" stroke="#8000ff" stroke-width="1"/>
<polygon points="281.77,283.89 287.72,293.99 275.82,293.99" fill="#fff" stroke="#8000ff" stroke-width="1"/>
<polygon points="279.23,282.07 285.18,292.17 273.28,292.17" fill="#fff" stroke="#8000ff" stroke-width="1"/>
<polygon points="276.68,280.25 282.63,290.35 270.73,290.35" fill="#fff" stroke="#8000ff" stroke-width="1"/>
<polygon points="274.14,278.42 280.09,288.52 268.19,288.52" fill="#fff" stroke="#8000ff" stroke-width="1"/>
<polygon points="271.59,276.60 277.54,286.70 265.64,286.70" fill="#fff" stroke="#8000ff" stroke-width="1"/>
<polygon points="269.05,274.78 275.00,284.88 263.10,284.88" fill="#fff" stroke="#8000ff" stroke-width="1"/>
<polygon points="266.50,272.96 272.45,283.06 260.55,283.06" fill="#fff" stroke="#8000ff" stroke-width="1"/>
<polygon points="263.96,271.15 269.91,281.25 258.01,281.25" fill="#fff" stroke="#8000ff" stroke-width="1"/>
<polygon points="261.42,269.33 267.37,279.43 255.47,279.43" fill="#fff" stroke="#8000ff" stroke-width="1"/>
<polygon points="258.87,267.51 264.82,277.61 252.92,277.61" fill="#fff" stroke="#8000ff" stroke-width="1"/>
<polygon points="256.33,265.70 262.28,275.80 250.38,275.80" fill="#fff" stroke="#8000ff" stroke-width="1"/>
<polygon points="253.78,263.89 259.73,273.99 247.83,273.99" fill="#fff" stroke="#8000ff" stroke-width="1"/>
<polygon points="251.24,262.07 257.19,272.17 245.29,272.17" fill="#fff" stroke="#8000ff" stroke-width="1"/>
<polygon points="248.69,260.26 254.64,270.36 242.74,270.36" fill="#fff" stroke="#8000ff" stroke-width="1"/>
<polygon points="246.15,258.45 252.10,268.55 240.20,268.55" fill="#fff" stroke="#8000ff" stroke-width="1"/>
<polygon points="243.60,256.64 249.55,266.74 237.65,266.74" fill="#fff" stroke="#8000ff" stroke-width="1"/>
<polygon points="241.06,254.83 247.01,264.93 235.11,264.93" fill="#fff" stroke="#8000ff" stroke-width="1"/>
<polygon points="238.51,253.03 244.46,263.13 232.56,263.13" fill="#fff" stroke="#8000ff" stroke-width="1"/>
<polygon points="235.97,251.22 241.92,261.32 230.02,261.32" fill="#fff" stroke="#8000ff" stroke-width="1"/>
<polygon points="233.43,249.42 239.38,259.52 227.48,259.52" fill="#fff" stroke="#8000ff" stroke-width="1"/>
<polygon points="230.88,247.61 236.83,257.71 224.93,257.71" fill="#fff" stroke="#8000ff" stroke-width="1"/>
<polygon points="228.34,245.81 234.29,255.91 222.39,255.91" fill="#fff" stroke="#8000ff" stroke-width="1"/>
<polygon points="225.79,244.01 231.74,254.11 219.84,254.11" fill="#fff" stroke="#8000ff" stroke-width="1"/>
<polygon points="223.25,242.21 229.20,252.31 217.30,252.31" fill="#fff" stroke="#8000ff" stroke-width="1"/>
<polygon points="220.70,240.41 226.65,250.51 214.75,250.51" fill="#fff" stroke="#8000ff" stroke-width="1"/>
<polygon points="218.16,238.61 224.11,248.71 212.21,248.71" fill="#fff" stroke="#8000ff" stroke-width="1"/>
<polygon points="215.61,236.81 221.56,246.91 209.66,246.91" fill="#fff" stroke="#8000ff" stroke-width="1"/>
<polygon points="213.07,235.01 219.02,245.11 207.12,245.11" fill="#fff" stroke="#8000ff" stroke-width="1"/>
<polygon points="210.52,233.22 216.47,243.32 204.57,243.32" fill="#fff" stroke="#8000ff" stroke-width="1"/>
<polygon points="207.98,231.42 213.93,241.52 202.03,241.52" fill="#fff" stroke="#8000ff" stroke-width="1"/>
<polygon points="205.44,229.63 211.39,239.73 199.49,239.73" fill="#fff" stroke="#8000ff" stroke-width="1"/>
<polygon points="202.89,227.84 208.84,237.94 196.94,237.94" fill="#fff" stroke="#8000ff" stroke-width="1"/>
<polygon points="200.35,226.04 206.30,236.14 194.40,236.14" fill="#fff" stroke="#8000ff" stroke-width="1"/>
<polygon points="197.80,224.25 203.75,234.35 191.85,234.35" fill="#fff" stroke="#8000ff" stroke-width="1"/>
<polygon points="195.26,222.46 201.21,232.56 189.31,232.56" fill="#fff" stroke="#8000ff" stroke-width="1"/>
<polygon points="192.71,220.68 198.66,230.78 186.76,230.78" fill="#fff" stroke="#8000ff" stroke-width="1"/>
<polygon points="190.17,218.89 196.12,228.99 184.22,228.99" fill="#fff" stroke="#8000ff" stroke-width="1"/>
<polygon points="187.62,217.10 193.57,227.20 181.67,227.20" fill="#fff" stroke="#8000ff" stroke-width="1"/>
<polygon points="185.08,215.32 191.03,225.42 179.13,225.42" fill="#fff" stroke="#8000ff" stroke-width="1"/>
<polygon points="182.54,213.53 188.49,223.63 176.59,223.63" fill="#fff" stroke="#8000ff" stroke-width="1"/>
<polygon points="179.99,211.75 185.94,221.85 174.04,221.85" fill="#fff" stroke="#8000ff" stroke-width="1"/>
<polygon points="177.45,209.97 183.40,220.07 171.50,220.07" fill="#fff" stroke="#8000ff" stroke-width="1"/>
<polygon points="174.90,208.19 180.85,218.29 168.95,218.29" fill="#fff" stroke="#8000ff" stroke-width="1"/>
<polygon points="172.36,206.41 178.31,216.51 166.41,216.51" fill="#fff" stroke="#8000ff" stroke-width="1"/>
<polygon points="169.81,204.63 175.76,214.73 163.86,214.73" fill="#fff" stroke="#8000ff" stroke-width="1"/>
<polygon points="167.27,202.85 173.22,212.95 161.32,212.95" fill="#fff" stroke="#8000ff" stroke-width="1"/>
<polygon points="164.72,201.07 170.67,211.17 158.77,211.17" fill="#fff" stroke="#8000ff" stroke-width="1"/>
<polygon points="162.18,199.30 168.13,209.40 156.23,209.40" fill="#fff" stroke="#8000ff" stroke-width="1"/>
<polygon points="159.63,197.52 165.58,207.62 153.69,207.62" fill="#fff" stroke="#8000ff" stroke-width="1"/>
<polygon points="157.09,195.75 163.04,205.85 151.14,205.85" fill="#fff" stroke="#8000ff" stroke-width="1"/>
<polygon points="154.55,193.98 160.50,204.08 148.60,204.08" fill="#fff" stroke="#8000ff" stroke-width="1"/>
<polygon points="152.00,192.21 157.95,202.31 146.05,202.31" fill="#fff" stroke="#8000ff" stroke-width="1"/>
<polygon points="149.46,190.43 155.41,200.53 143.51,200.53" fill="#fff" stroke="#8000ff" stroke-width="1"/>
<polygon points="146.91,188.67 152.86,198.77 140.96,198.77" fill="#fff" stroke="#8000ff" stroke-width="1"/>
<polygon points="144.37,186.90 150.32,197.00 138.42,197.00" fill="#fff" stroke="#8000ff" stroke-width="1"/>
<polygon points="141.82,185.13 147.77,195.23 135.87,195.23" fill="#fff" stroke="#8000ff" stroke-width="1"/>
<polygon points="139.28,183.36 145.23,193.46 133.33,193.46" fill="#fff" stroke="#8000ff" stroke-width="1"/>
<polygon points="136.73,181.60 142.68,191.70 130.78,191.70" fill="#fff" stroke="#8000ff" stroke-width="1"/>
<polygon points="134.19,179.83 140.14,189.93 128.24,189.93" fill="#fff" stroke="#8000ff" stroke-width="1"/>
<polygon points="131.65,178.07 137.60,188.17 125.70,188.17" fill="#fff" stroke="#8000ff" stroke-width="1"/>
<polygon points="129.10,176.31 135.05,186.41 123.15,186.41" fill="#fff" stroke="#8000ff" stroke-width="1"/>
<polygon points="126.56,174.55 132.51,184.65 120.61,184.65" fill="#fff" stroke="#8000ff" stroke-width="1"/>
<polygon points="124.01,172.79 129.96,182.89 118.06,182.89" fill="#fff" stroke="#8000ff" stroke-width="1"/>
<polygon points="121.47,171.03 127.42,181.13 115.52,181.13" fill="#fff" stroke="#8000ff" stroke-width="1"/>
<polygon points="118.92,169.27 124.87,179.37 112.97,179.37" fill="#fff" stroke="#8000ff" stroke-width="1"/>
<polygon points="116.38,167.51 122.33,177.61 110.43,177.61" fill="#fff" stroke="#8000ff" stroke-width="1"/>
<polygon points="113.83,165.76 119.78,175.86 107.88,175.86" fill="#fff" stroke="#8000ff" stroke-width="1"/>
<polygon points="111.29,164.00 117.24,174.10 105.34,174.10" fill="#fff" stroke="#8000ff" stroke-width="1"/>
<polygon points="108.75,162.25 114.70,172.35 102.80,172.35" fill="#fff" stroke="#8000ff" stroke-width="1"/>
<polygon points="106.20,160.50 112.15,170.60 100.25,170.60" fill="#fff" stroke="#8000ff" stroke-width="1"/>
<polygon points="103.66,158.74 109.61,168.84 97.71,168.84" fill="#fff" stroke="#8000ff" stroke-width="1"/>
<polygon points="101.11,156.99 107.06,167.09 95.16,167.09" fill="#fff" stroke="#8000ff" stroke-width="1"/>
<polygon points="98.57,155.24 104.52,165.34 92.62,165.34" fill="#fff" stroke="#8000ff" stroke-width="1"/>
<polygon points="96.02,153.50 101.97,163.60 90.07,163.60" fill="#fff" stroke="#8000ff" stroke-width="1"/>
<polygon points="93.48,151.75 99.43,161.85 87.53,161.85" fill="#fff" stroke="#8000ff" stroke-width="1"/>
<polygon points="90.93,150.00 96.88,160.10 84.98,160.10" fill="#fff" stroke="#8000ff" stroke-width="1"/>
<polygon points="88.39,148.26 94.34,158.36 82.44,158.36" fill="#fff" stroke="#8000ff" stroke-width="1"/>
<polygon points="85.84,146.51 91.79,156.61 79.89,156.61" fill="#fff" stroke="#8000ff" stroke-width="1"/>
<polygon points="83.30,144.77 89.25,154.87 77.35,154.87" fill="#fff" stroke="#8000ff" stroke-width="1"/>
</g></g>
<g class="lg">
<circle cx="101.60" cy="238.90" r="5.5" fill="#ff0000"/>
<text x="123.78 133.70 143.87 154.80 155.80 166.69 167.69 175.55" y="243.2">CdTe : P</text>
<rect x="96.55" y="253.95" width="10.1" height="10.1" fill="#008000"/>
<text x="123.78 133.70 143.87 154.80 155.80 166.69 167.69 175.46 188.25" y="263.7">CdTe : As</text>
<polygon points="101.60,272.05 108.25,283.35 94.95,283.35" fill="#8000ff"/>
<text x="123.78 133.70 143.87 154.80 155.80 166.69 167.69 175.62 188.23" y="283.7">CdTe : Na</text>
<circle cx="101.60" cy="300.20" r="4.95" fill="#fff" stroke="#ff0000" stroke-width="1.1" shape-rendering="auto"/>
<text x="123.78 133.70 143.87 154.80 155.80 166.69 167.69 175.55" y="305.2">CdTe : P</text>
<text x="199.00 203.47 212.24 219.80 229.93 235.91 245.28" y="305.2">(10day)</text>
<rect x="97.25" y="315.85" width="8.7" height="8.7" fill="#fff" stroke="#008000" stroke-width="1.3" shape-rendering="auto"/>
<text x="123.78 133.70 143.87 154.80 155.80 166.69 167.69 175.46 188.25" y="325.2">CdTe : As</text>
<text x="199.00 203.47 212.24 219.80 229.93 235.91 245.28" y="325.2">(10day)</text>
<polygon points="101.60,334.35 107.55,344.45 95.65,344.45" fill="#fff" stroke="#8000ff" stroke-width="1"/>
<text x="123.78 133.70 143.87 154.80 155.80 166.69 167.69 175.62 188.23" y="345.7">CdTe : Na</text>
<text x="200.30 204.77 213.54 221.10 231.23 237.21 246.58" y="345.7">(10day)</text>
</g>
<rect x="83.3" y="16.4" width="457.99999999999994" height="337.6" fill="none" stroke="#000" stroke-width="2.8"/>
<g class="tl">
<text x="75.6" y="359.30" text-anchor="end">0</text>
<text x="75.6" y="291.80" text-anchor="end">5</text>
<text x="75.6" y="224.30" text-anchor="end">10</text>
<text x="75.6" y="156.80" text-anchor="end">15</text>
<text x="75.6" y="89.30" text-anchor="end">20</text>
<text x="75.6" y="21.80" text-anchor="end">25</text>
<text x="83.30" y="376.4" text-anchor="middle">0.0</text>
<text x="185.08" y="376.4" text-anchor="middle">0.2</text>
<text x="286.86" y="376.4" text-anchor="middle">0.4</text>
<text x="388.64" y="376.4" text-anchor="middle">0.6</text>
<text x="490.42" y="376.4" text-anchor="middle">0.8</text>
</g>
<text class="ti" x="312.1" y="413.1" text-anchor="middle">Voltage (V)</text>
<text class="ti" transform="translate(23.5,184.6) rotate(-90)" text-anchor="middle">Current density (mA/cm<tspan font-size="18" dy="-8">2</tspan><tspan dy="8">)</tspan></text>
</svg>
</body></html>
